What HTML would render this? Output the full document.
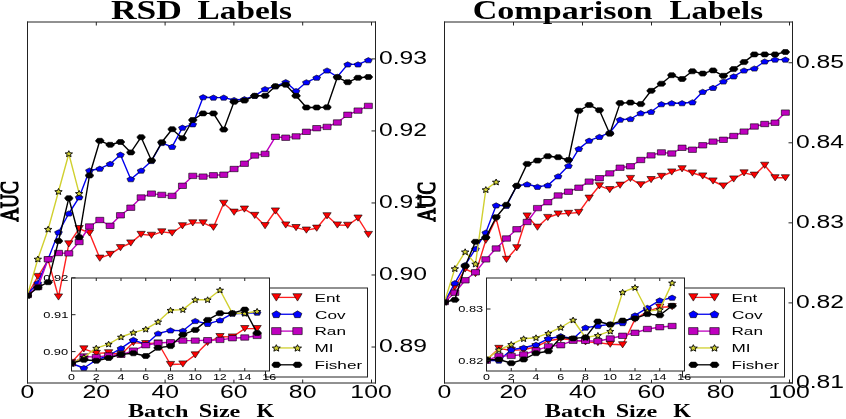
<!DOCTYPE html>
<html><head><meta charset="utf-8"><title>AUC vs Batch Size</title>
<style>html,body{margin:0;padding:0;background:#fff;}body{width:846px;height:419px;overflow:hidden;}svg{display:block;will-change:transform;filter:blur(0.35px);}</style>
</head><body>
<svg width="846" height="419" viewBox="0 0 846 419">
<rect width="846" height="419" fill="#fff"/>
<defs>
<clipPath id="cl"><rect x="27.5" y="22" width="348.0" height="361"/></clipPath>
<clipPath id="cr"><rect x="444.5" y="22" width="348.0" height="361"/></clipPath>
<clipPath id="cil"><rect x="71.5" y="278" width="198.0" height="93"/></clipPath>
<clipPath id="cir"><rect x="486.5" y="278" width="198.0" height="93"/></clipPath>
</defs>
<g clip-path="url(#cl)">
<polyline points="27.5,295 37.83,276.5 48.16,260 58.49,297 68.82,243.9 79.15,228.6 89.47,233 99.8,258.2 110.13,254.4 120.46,247.7 130.79,243 141.12,234.4 151.45,235.3 161.78,231.9 172.11,233 182.44,225.8 192.76,222.9 203.09,222.9 213.42,227.3 223.75,203.3 234.08,212.2 244.41,209.1 254.74,215.4 265.07,225.7 275.4,211 285.73,225 296.05,227.6 306.38,230.1 316.71,228.2 327.04,215.8 337.37,225 347.7,225.3 358.03,218.1 368.36,234.5" fill="none" stroke="#ff2020" stroke-width="1.4" stroke-linejoin="round"/>
<polygon points="23.35,291.9 31.65,291.9 27.5,298.1" fill="#ff0000" stroke="#000" stroke-width="0.6" stroke-linejoin="round"/>
<polygon points="33.68,273.4 41.98,273.4 37.83,279.6" fill="#ff0000" stroke="#000" stroke-width="0.6" stroke-linejoin="round"/>
<polygon points="44.01,256.9 52.31,256.9 48.16,263.1" fill="#ff0000" stroke="#000" stroke-width="0.6" stroke-linejoin="round"/>
<polygon points="54.34,293.9 62.64,293.9 58.49,300.1" fill="#ff0000" stroke="#000" stroke-width="0.6" stroke-linejoin="round"/>
<polygon points="64.67,240.8 72.97,240.8 68.82,247" fill="#ff0000" stroke="#000" stroke-width="0.6" stroke-linejoin="round"/>
<polygon points="75,225.5 83.3,225.5 79.15,231.7" fill="#ff0000" stroke="#000" stroke-width="0.6" stroke-linejoin="round"/>
<polygon points="85.32,229.9 93.62,229.9 89.47,236.1" fill="#ff0000" stroke="#000" stroke-width="0.6" stroke-linejoin="round"/>
<polygon points="95.65,255.1 103.95,255.1 99.8,261.3" fill="#ff0000" stroke="#000" stroke-width="0.6" stroke-linejoin="round"/>
<polygon points="105.98,251.3 114.28,251.3 110.13,257.5" fill="#ff0000" stroke="#000" stroke-width="0.6" stroke-linejoin="round"/>
<polygon points="116.31,244.6 124.61,244.6 120.46,250.8" fill="#ff0000" stroke="#000" stroke-width="0.6" stroke-linejoin="round"/>
<polygon points="126.64,239.9 134.94,239.9 130.79,246.1" fill="#ff0000" stroke="#000" stroke-width="0.6" stroke-linejoin="round"/>
<polygon points="136.97,231.3 145.27,231.3 141.12,237.5" fill="#ff0000" stroke="#000" stroke-width="0.6" stroke-linejoin="round"/>
<polygon points="147.3,232.2 155.6,232.2 151.45,238.4" fill="#ff0000" stroke="#000" stroke-width="0.6" stroke-linejoin="round"/>
<polygon points="157.63,228.8 165.93,228.8 161.78,235" fill="#ff0000" stroke="#000" stroke-width="0.6" stroke-linejoin="round"/>
<polygon points="167.96,229.9 176.26,229.9 172.11,236.1" fill="#ff0000" stroke="#000" stroke-width="0.6" stroke-linejoin="round"/>
<polygon points="178.28,222.7 186.59,222.7 182.44,228.9" fill="#ff0000" stroke="#000" stroke-width="0.6" stroke-linejoin="round"/>
<polygon points="188.61,219.8 196.91,219.8 192.76,226" fill="#ff0000" stroke="#000" stroke-width="0.6" stroke-linejoin="round"/>
<polygon points="198.94,219.8 207.24,219.8 203.09,226" fill="#ff0000" stroke="#000" stroke-width="0.6" stroke-linejoin="round"/>
<polygon points="209.27,224.2 217.57,224.2 213.42,230.4" fill="#ff0000" stroke="#000" stroke-width="0.6" stroke-linejoin="round"/>
<polygon points="219.6,200.2 227.9,200.2 223.75,206.4" fill="#ff0000" stroke="#000" stroke-width="0.6" stroke-linejoin="round"/>
<polygon points="229.93,209.1 238.23,209.1 234.08,215.3" fill="#ff0000" stroke="#000" stroke-width="0.6" stroke-linejoin="round"/>
<polygon points="240.26,206 248.56,206 244.41,212.2" fill="#ff0000" stroke="#000" stroke-width="0.6" stroke-linejoin="round"/>
<polygon points="250.59,212.3 258.89,212.3 254.74,218.5" fill="#ff0000" stroke="#000" stroke-width="0.6" stroke-linejoin="round"/>
<polygon points="260.92,222.6 269.22,222.6 265.07,228.8" fill="#ff0000" stroke="#000" stroke-width="0.6" stroke-linejoin="round"/>
<polygon points="271.25,207.9 279.55,207.9 275.4,214.1" fill="#ff0000" stroke="#000" stroke-width="0.6" stroke-linejoin="round"/>
<polygon points="281.58,221.9 289.88,221.9 285.73,228.1" fill="#ff0000" stroke="#000" stroke-width="0.6" stroke-linejoin="round"/>
<polygon points="291.9,224.5 300.2,224.5 296.05,230.7" fill="#ff0000" stroke="#000" stroke-width="0.6" stroke-linejoin="round"/>
<polygon points="302.23,227 310.53,227 306.38,233.2" fill="#ff0000" stroke="#000" stroke-width="0.6" stroke-linejoin="round"/>
<polygon points="312.56,225.1 320.86,225.1 316.71,231.3" fill="#ff0000" stroke="#000" stroke-width="0.6" stroke-linejoin="round"/>
<polygon points="322.89,212.7 331.19,212.7 327.04,218.9" fill="#ff0000" stroke="#000" stroke-width="0.6" stroke-linejoin="round"/>
<polygon points="333.22,221.9 341.52,221.9 337.37,228.1" fill="#ff0000" stroke="#000" stroke-width="0.6" stroke-linejoin="round"/>
<polygon points="343.55,222.2 351.85,222.2 347.7,228.4" fill="#ff0000" stroke="#000" stroke-width="0.6" stroke-linejoin="round"/>
<polygon points="353.88,215 362.18,215 358.03,221.2" fill="#ff0000" stroke="#000" stroke-width="0.6" stroke-linejoin="round"/>
<polygon points="364.21,231.4 372.51,231.4 368.36,237.6" fill="#ff0000" stroke="#000" stroke-width="0.6" stroke-linejoin="round"/>
</g>
<g clip-path="url(#cl)">
<polyline points="27.5,294 37.83,283 48.16,259 58.49,232.4 68.82,213.5 79.15,197.3 89.47,170.5 99.8,168.7 110.13,163.9 120.46,154.7 130.79,179.2 141.12,170.6 151.45,161 161.78,143 172.11,146.8 182.44,127.7 192.76,124.3 203.09,97.2 213.42,97.6 223.75,97.6 234.08,100 244.41,99.2 254.74,95.8 265.07,89.1 275.4,86.3 285.73,82.1 296.05,91 306.38,82.3 316.71,77.7 327.04,70.5 337.37,76.8 347.7,64.4 358.03,64.4 368.36,60.2" fill="none" stroke="#0000ee" stroke-width="1.4" stroke-linejoin="round"/>
<polygon points="27.5,291.4 31.4,293.39 29.91,296.6 25.09,296.6 23.6,293.39" fill="#0000ff" stroke="#000" stroke-width="0.6" stroke-linejoin="round"/>
<polygon points="37.83,280.4 41.73,282.39 40.24,285.6 35.42,285.6 33.93,282.39" fill="#0000ff" stroke="#000" stroke-width="0.6" stroke-linejoin="round"/>
<polygon points="48.16,256.4 52.06,258.39 50.57,261.6 45.75,261.6 44.26,258.39" fill="#0000ff" stroke="#000" stroke-width="0.6" stroke-linejoin="round"/>
<polygon points="58.49,229.8 62.39,231.79 60.9,235 56.08,235 54.59,231.79" fill="#0000ff" stroke="#000" stroke-width="0.6" stroke-linejoin="round"/>
<polygon points="68.82,210.9 72.72,212.89 71.23,216.1 66.41,216.1 64.92,212.89" fill="#0000ff" stroke="#000" stroke-width="0.6" stroke-linejoin="round"/>
<polygon points="79.15,194.7 83.05,196.69 81.56,199.9 76.73,199.9 75.24,196.69" fill="#0000ff" stroke="#000" stroke-width="0.6" stroke-linejoin="round"/>
<polygon points="89.47,167.9 93.37,169.89 91.88,173.1 87.06,173.1 85.57,169.89" fill="#0000ff" stroke="#000" stroke-width="0.6" stroke-linejoin="round"/>
<polygon points="99.8,166.1 103.7,168.09 102.21,171.3 97.39,171.3 95.9,168.09" fill="#0000ff" stroke="#000" stroke-width="0.6" stroke-linejoin="round"/>
<polygon points="110.13,161.3 114.03,163.29 112.54,166.5 107.72,166.5 106.23,163.29" fill="#0000ff" stroke="#000" stroke-width="0.6" stroke-linejoin="round"/>
<polygon points="120.46,152.1 124.36,154.09 122.87,157.3 118.05,157.3 116.56,154.09" fill="#0000ff" stroke="#000" stroke-width="0.6" stroke-linejoin="round"/>
<polygon points="130.79,176.6 134.69,178.59 133.2,181.8 128.38,181.8 126.89,178.59" fill="#0000ff" stroke="#000" stroke-width="0.6" stroke-linejoin="round"/>
<polygon points="141.12,168 145.02,169.99 143.53,173.2 138.71,173.2 137.22,169.99" fill="#0000ff" stroke="#000" stroke-width="0.6" stroke-linejoin="round"/>
<polygon points="151.45,158.4 155.35,160.39 153.86,163.6 149.04,163.6 147.55,160.39" fill="#0000ff" stroke="#000" stroke-width="0.6" stroke-linejoin="round"/>
<polygon points="161.78,140.4 165.68,142.39 164.19,145.6 159.37,145.6 157.88,142.39" fill="#0000ff" stroke="#000" stroke-width="0.6" stroke-linejoin="round"/>
<polygon points="172.11,144.2 176.01,146.19 174.52,149.4 169.7,149.4 168.21,146.19" fill="#0000ff" stroke="#000" stroke-width="0.6" stroke-linejoin="round"/>
<polygon points="182.44,125.1 186.34,127.09 184.85,130.3 180.02,130.3 178.53,127.09" fill="#0000ff" stroke="#000" stroke-width="0.6" stroke-linejoin="round"/>
<polygon points="192.76,121.7 196.66,123.69 195.17,126.9 190.35,126.9 188.86,123.69" fill="#0000ff" stroke="#000" stroke-width="0.6" stroke-linejoin="round"/>
<polygon points="203.09,94.6 206.99,96.59 205.5,99.8 200.68,99.8 199.19,96.59" fill="#0000ff" stroke="#000" stroke-width="0.6" stroke-linejoin="round"/>
<polygon points="213.42,95 217.32,96.99 215.83,100.2 211.01,100.2 209.52,96.99" fill="#0000ff" stroke="#000" stroke-width="0.6" stroke-linejoin="round"/>
<polygon points="223.75,95 227.65,96.99 226.16,100.2 221.34,100.2 219.85,96.99" fill="#0000ff" stroke="#000" stroke-width="0.6" stroke-linejoin="round"/>
<polygon points="234.08,97.4 237.98,99.39 236.49,102.6 231.67,102.6 230.18,99.39" fill="#0000ff" stroke="#000" stroke-width="0.6" stroke-linejoin="round"/>
<polygon points="244.41,96.6 248.31,98.59 246.82,101.8 242,101.8 240.51,98.59" fill="#0000ff" stroke="#000" stroke-width="0.6" stroke-linejoin="round"/>
<polygon points="254.74,93.2 258.64,95.19 257.15,98.4 252.33,98.4 250.84,95.19" fill="#0000ff" stroke="#000" stroke-width="0.6" stroke-linejoin="round"/>
<polygon points="265.07,86.5 268.97,88.49 267.48,91.7 262.66,91.7 261.17,88.49" fill="#0000ff" stroke="#000" stroke-width="0.6" stroke-linejoin="round"/>
<polygon points="275.4,83.7 279.3,85.69 277.81,88.9 272.99,88.9 271.5,85.69" fill="#0000ff" stroke="#000" stroke-width="0.6" stroke-linejoin="round"/>
<polygon points="285.73,79.5 289.63,81.49 288.14,84.7 283.31,84.7 281.82,81.49" fill="#0000ff" stroke="#000" stroke-width="0.6" stroke-linejoin="round"/>
<polygon points="296.05,88.4 299.95,90.39 298.46,93.6 293.64,93.6 292.15,90.39" fill="#0000ff" stroke="#000" stroke-width="0.6" stroke-linejoin="round"/>
<polygon points="306.38,79.7 310.28,81.69 308.79,84.9 303.97,84.9 302.48,81.69" fill="#0000ff" stroke="#000" stroke-width="0.6" stroke-linejoin="round"/>
<polygon points="316.71,75.1 320.61,77.09 319.12,80.3 314.3,80.3 312.81,77.09" fill="#0000ff" stroke="#000" stroke-width="0.6" stroke-linejoin="round"/>
<polygon points="327.04,67.9 330.94,69.89 329.45,73.1 324.63,73.1 323.14,69.89" fill="#0000ff" stroke="#000" stroke-width="0.6" stroke-linejoin="round"/>
<polygon points="337.37,74.2 341.27,76.19 339.78,79.4 334.96,79.4 333.47,76.19" fill="#0000ff" stroke="#000" stroke-width="0.6" stroke-linejoin="round"/>
<polygon points="347.7,61.8 351.6,63.79 350.11,67 345.29,67 343.8,63.79" fill="#0000ff" stroke="#000" stroke-width="0.6" stroke-linejoin="round"/>
<polygon points="358.03,61.8 361.93,63.79 360.44,67 355.62,67 354.13,63.79" fill="#0000ff" stroke="#000" stroke-width="0.6" stroke-linejoin="round"/>
<polygon points="368.36,57.6 372.26,59.59 370.77,62.8 365.95,62.8 364.46,59.59" fill="#0000ff" stroke="#000" stroke-width="0.6" stroke-linejoin="round"/>
</g>
<g clip-path="url(#cl)">
<polyline points="27.5,295 37.83,287 48.16,259.3 58.49,253 68.82,253.4 79.15,242 89.47,226.5 99.8,220 110.13,225.8 120.46,215.3 130.79,207.7 141.12,197.5 151.45,193.6 161.78,194.9 172.11,195.9 182.44,185.8 192.76,175.9 203.09,176.6 213.42,175.3 223.75,174.7 234.08,169 244.41,163.7 254.74,155.5 265.07,153.9 275.4,136.8 285.73,137.7 296.05,136.4 306.38,131.8 316.71,128.2 327.04,126.9 337.37,122.5 347.7,114.8 358.03,110.6 368.36,105.9" fill="none" stroke="#bf00bf" stroke-width="1.4" stroke-linejoin="round"/>
<polygon points="23.5,292.3 31.5,292.3 31.5,297.7 23.5,297.7" fill="#bf00bf" stroke="#000" stroke-width="0.6" stroke-linejoin="round"/>
<polygon points="33.83,284.3 41.83,284.3 41.83,289.7 33.83,289.7" fill="#bf00bf" stroke="#000" stroke-width="0.6" stroke-linejoin="round"/>
<polygon points="44.16,256.6 52.16,256.6 52.16,262 44.16,262" fill="#bf00bf" stroke="#000" stroke-width="0.6" stroke-linejoin="round"/>
<polygon points="54.49,250.3 62.49,250.3 62.49,255.7 54.49,255.7" fill="#bf00bf" stroke="#000" stroke-width="0.6" stroke-linejoin="round"/>
<polygon points="64.82,250.7 72.82,250.7 72.82,256.1 64.82,256.1" fill="#bf00bf" stroke="#000" stroke-width="0.6" stroke-linejoin="round"/>
<polygon points="75.15,239.3 83.15,239.3 83.15,244.7 75.15,244.7" fill="#bf00bf" stroke="#000" stroke-width="0.6" stroke-linejoin="round"/>
<polygon points="85.47,223.8 93.47,223.8 93.47,229.2 85.47,229.2" fill="#bf00bf" stroke="#000" stroke-width="0.6" stroke-linejoin="round"/>
<polygon points="95.8,217.3 103.8,217.3 103.8,222.7 95.8,222.7" fill="#bf00bf" stroke="#000" stroke-width="0.6" stroke-linejoin="round"/>
<polygon points="106.13,223.1 114.13,223.1 114.13,228.5 106.13,228.5" fill="#bf00bf" stroke="#000" stroke-width="0.6" stroke-linejoin="round"/>
<polygon points="116.46,212.6 124.46,212.6 124.46,218 116.46,218" fill="#bf00bf" stroke="#000" stroke-width="0.6" stroke-linejoin="round"/>
<polygon points="126.79,205 134.79,205 134.79,210.4 126.79,210.4" fill="#bf00bf" stroke="#000" stroke-width="0.6" stroke-linejoin="round"/>
<polygon points="137.12,194.8 145.12,194.8 145.12,200.2 137.12,200.2" fill="#bf00bf" stroke="#000" stroke-width="0.6" stroke-linejoin="round"/>
<polygon points="147.45,190.9 155.45,190.9 155.45,196.3 147.45,196.3" fill="#bf00bf" stroke="#000" stroke-width="0.6" stroke-linejoin="round"/>
<polygon points="157.78,192.2 165.78,192.2 165.78,197.6 157.78,197.6" fill="#bf00bf" stroke="#000" stroke-width="0.6" stroke-linejoin="round"/>
<polygon points="168.11,193.2 176.11,193.2 176.11,198.6 168.11,198.6" fill="#bf00bf" stroke="#000" stroke-width="0.6" stroke-linejoin="round"/>
<polygon points="178.44,183.1 186.44,183.1 186.44,188.5 178.44,188.5" fill="#bf00bf" stroke="#000" stroke-width="0.6" stroke-linejoin="round"/>
<polygon points="188.76,173.2 196.76,173.2 196.76,178.6 188.76,178.6" fill="#bf00bf" stroke="#000" stroke-width="0.6" stroke-linejoin="round"/>
<polygon points="199.09,173.9 207.09,173.9 207.09,179.3 199.09,179.3" fill="#bf00bf" stroke="#000" stroke-width="0.6" stroke-linejoin="round"/>
<polygon points="209.42,172.6 217.42,172.6 217.42,178 209.42,178" fill="#bf00bf" stroke="#000" stroke-width="0.6" stroke-linejoin="round"/>
<polygon points="219.75,172 227.75,172 227.75,177.4 219.75,177.4" fill="#bf00bf" stroke="#000" stroke-width="0.6" stroke-linejoin="round"/>
<polygon points="230.08,166.3 238.08,166.3 238.08,171.7 230.08,171.7" fill="#bf00bf" stroke="#000" stroke-width="0.6" stroke-linejoin="round"/>
<polygon points="240.41,161 248.41,161 248.41,166.4 240.41,166.4" fill="#bf00bf" stroke="#000" stroke-width="0.6" stroke-linejoin="round"/>
<polygon points="250.74,152.8 258.74,152.8 258.74,158.2 250.74,158.2" fill="#bf00bf" stroke="#000" stroke-width="0.6" stroke-linejoin="round"/>
<polygon points="261.07,151.2 269.07,151.2 269.07,156.6 261.07,156.6" fill="#bf00bf" stroke="#000" stroke-width="0.6" stroke-linejoin="round"/>
<polygon points="271.4,134.1 279.4,134.1 279.4,139.5 271.4,139.5" fill="#bf00bf" stroke="#000" stroke-width="0.6" stroke-linejoin="round"/>
<polygon points="281.73,135 289.73,135 289.73,140.4 281.73,140.4" fill="#bf00bf" stroke="#000" stroke-width="0.6" stroke-linejoin="round"/>
<polygon points="292.05,133.7 300.05,133.7 300.05,139.1 292.05,139.1" fill="#bf00bf" stroke="#000" stroke-width="0.6" stroke-linejoin="round"/>
<polygon points="302.38,129.1 310.38,129.1 310.38,134.5 302.38,134.5" fill="#bf00bf" stroke="#000" stroke-width="0.6" stroke-linejoin="round"/>
<polygon points="312.71,125.5 320.71,125.5 320.71,130.9 312.71,130.9" fill="#bf00bf" stroke="#000" stroke-width="0.6" stroke-linejoin="round"/>
<polygon points="323.04,124.2 331.04,124.2 331.04,129.6 323.04,129.6" fill="#bf00bf" stroke="#000" stroke-width="0.6" stroke-linejoin="round"/>
<polygon points="333.37,119.8 341.37,119.8 341.37,125.2 333.37,125.2" fill="#bf00bf" stroke="#000" stroke-width="0.6" stroke-linejoin="round"/>
<polygon points="343.7,112.1 351.7,112.1 351.7,117.5 343.7,117.5" fill="#bf00bf" stroke="#000" stroke-width="0.6" stroke-linejoin="round"/>
<polygon points="354.03,107.9 362.03,107.9 362.03,113.3 354.03,113.3" fill="#bf00bf" stroke="#000" stroke-width="0.6" stroke-linejoin="round"/>
<polygon points="364.36,103.2 372.36,103.2 372.36,108.6 364.36,108.6" fill="#bf00bf" stroke="#000" stroke-width="0.6" stroke-linejoin="round"/>
</g>
<g clip-path="url(#cl)">
<polyline points="27.5,295 37.83,259 48.16,229.2 58.49,191.5 68.82,153.7 79.15,193.4" fill="none" stroke="#d0d030" stroke-width="1.4" stroke-linejoin="round"/>
<polygon points="27.5,291.99 28.53,294.09 31.2,294.28 29.17,295.76 29.79,297.98 27.5,296.79 25.21,297.98 25.83,295.76 23.8,294.28 26.47,294.09" fill="#d4d436" stroke="#000" stroke-width="0.9" stroke-linejoin="round"/>
<polygon points="37.83,255.99 38.86,258.09 41.53,258.28 39.49,259.76 40.12,261.98 37.83,260.79 35.54,261.98 36.16,259.76 34.13,258.28 36.8,258.09" fill="#d4d436" stroke="#000" stroke-width="0.9" stroke-linejoin="round"/>
<polygon points="48.16,226.19 49.19,228.29 51.86,228.48 49.82,229.96 50.44,232.18 48.16,230.99 45.87,232.18 46.49,229.96 44.46,228.48 47.13,228.29" fill="#d4d436" stroke="#000" stroke-width="0.9" stroke-linejoin="round"/>
<polygon points="58.49,188.49 59.52,190.59 62.19,190.78 60.15,192.26 60.77,194.48 58.49,193.29 56.2,194.48 56.82,192.26 54.79,190.78 57.46,190.59" fill="#d4d436" stroke="#000" stroke-width="0.9" stroke-linejoin="round"/>
<polygon points="68.82,150.69 69.85,152.79 72.52,152.98 70.48,154.46 71.1,156.68 68.82,155.49 66.53,156.68 67.15,154.46 65.12,152.98 67.79,152.79" fill="#d4d436" stroke="#000" stroke-width="0.9" stroke-linejoin="round"/>
<polygon points="79.15,190.39 80.17,192.49 82.85,192.68 80.81,194.16 81.43,196.38 79.15,195.19 76.86,196.38 77.48,194.16 75.44,192.68 78.12,192.49" fill="#d4d436" stroke="#000" stroke-width="0.9" stroke-linejoin="round"/>
</g>
<g clip-path="url(#cl)">
<polyline points="27.5,295.8 37.83,287.5 48.16,282.2 58.49,241 68.82,198.2 79.15,237.2 89.47,175.5 99.8,140.8 110.13,144.8 120.46,142 130.79,152.4 141.12,137.2 151.45,160.5 161.78,142.3 172.11,129.2 182.44,138.2 192.76,120 203.09,113.4 213.42,113.4 223.75,129.6 234.08,101.8 244.41,100.6 254.74,95.8 265.07,95.8 275.4,86.3 285.73,84.7 296.05,95.8 306.38,107.5 316.71,107.5 327.04,107.3 337.37,77.3 347.7,82.2 358.03,77.8 368.36,77" fill="none" stroke="#000000" stroke-width="1.4" stroke-linejoin="round"/>
<polygon points="23.5,295.3 25.26,293.3 29.74,293.3 31.5,295.3 31.5,296.3 29.74,298.3 25.26,298.3 23.5,296.3" fill="#000000" stroke="#000" stroke-width="0.6" stroke-linejoin="round"/>
<polygon points="33.83,287 35.59,285 40.07,285 41.83,287 41.83,288 40.07,290 35.59,290 33.83,288" fill="#000000" stroke="#000" stroke-width="0.6" stroke-linejoin="round"/>
<polygon points="44.16,281.7 45.92,279.7 50.4,279.7 52.16,281.7 52.16,282.7 50.4,284.7 45.92,284.7 44.16,282.7" fill="#000000" stroke="#000" stroke-width="0.6" stroke-linejoin="round"/>
<polygon points="54.49,240.5 56.25,238.5 60.73,238.5 62.49,240.5 62.49,241.5 60.73,243.5 56.25,243.5 54.49,241.5" fill="#000000" stroke="#000" stroke-width="0.6" stroke-linejoin="round"/>
<polygon points="64.82,197.7 66.58,195.7 71.06,195.7 72.82,197.7 72.82,198.7 71.06,200.7 66.58,200.7 64.82,198.7" fill="#000000" stroke="#000" stroke-width="0.6" stroke-linejoin="round"/>
<polygon points="75.15,236.7 76.91,234.7 81.39,234.7 83.15,236.7 83.15,237.7 81.39,239.7 76.91,239.7 75.15,237.7" fill="#000000" stroke="#000" stroke-width="0.6" stroke-linejoin="round"/>
<polygon points="85.47,175 87.23,173 91.71,173 93.47,175 93.47,176 91.71,178 87.23,178 85.47,176" fill="#000000" stroke="#000" stroke-width="0.6" stroke-linejoin="round"/>
<polygon points="95.8,140.3 97.56,138.3 102.04,138.3 103.8,140.3 103.8,141.3 102.04,143.3 97.56,143.3 95.8,141.3" fill="#000000" stroke="#000" stroke-width="0.6" stroke-linejoin="round"/>
<polygon points="106.13,144.3 107.89,142.3 112.37,142.3 114.13,144.3 114.13,145.3 112.37,147.3 107.89,147.3 106.13,145.3" fill="#000000" stroke="#000" stroke-width="0.6" stroke-linejoin="round"/>
<polygon points="116.46,141.5 118.22,139.5 122.7,139.5 124.46,141.5 124.46,142.5 122.7,144.5 118.22,144.5 116.46,142.5" fill="#000000" stroke="#000" stroke-width="0.6" stroke-linejoin="round"/>
<polygon points="126.79,151.9 128.55,149.9 133.03,149.9 134.79,151.9 134.79,152.9 133.03,154.9 128.55,154.9 126.79,152.9" fill="#000000" stroke="#000" stroke-width="0.6" stroke-linejoin="round"/>
<polygon points="137.12,136.7 138.88,134.7 143.36,134.7 145.12,136.7 145.12,137.7 143.36,139.7 138.88,139.7 137.12,137.7" fill="#000000" stroke="#000" stroke-width="0.6" stroke-linejoin="round"/>
<polygon points="147.45,160 149.21,158 153.69,158 155.45,160 155.45,161 153.69,163 149.21,163 147.45,161" fill="#000000" stroke="#000" stroke-width="0.6" stroke-linejoin="round"/>
<polygon points="157.78,141.8 159.54,139.8 164.02,139.8 165.78,141.8 165.78,142.8 164.02,144.8 159.54,144.8 157.78,142.8" fill="#000000" stroke="#000" stroke-width="0.6" stroke-linejoin="round"/>
<polygon points="168.11,128.7 169.87,126.7 174.35,126.7 176.11,128.7 176.11,129.7 174.35,131.7 169.87,131.7 168.11,129.7" fill="#000000" stroke="#000" stroke-width="0.6" stroke-linejoin="round"/>
<polygon points="178.44,137.7 180.19,135.7 184.68,135.7 186.44,137.7 186.44,138.7 184.68,140.7 180.19,140.7 178.44,138.7" fill="#000000" stroke="#000" stroke-width="0.6" stroke-linejoin="round"/>
<polygon points="188.76,119.5 190.52,117.5 195,117.5 196.76,119.5 196.76,120.5 195,122.5 190.52,122.5 188.76,120.5" fill="#000000" stroke="#000" stroke-width="0.6" stroke-linejoin="round"/>
<polygon points="199.09,112.9 200.85,110.9 205.33,110.9 207.09,112.9 207.09,113.9 205.33,115.9 200.85,115.9 199.09,113.9" fill="#000000" stroke="#000" stroke-width="0.6" stroke-linejoin="round"/>
<polygon points="209.42,112.9 211.18,110.9 215.66,110.9 217.42,112.9 217.42,113.9 215.66,115.9 211.18,115.9 209.42,113.9" fill="#000000" stroke="#000" stroke-width="0.6" stroke-linejoin="round"/>
<polygon points="219.75,129.1 221.51,127.1 225.99,127.1 227.75,129.1 227.75,130.1 225.99,132.1 221.51,132.1 219.75,130.1" fill="#000000" stroke="#000" stroke-width="0.6" stroke-linejoin="round"/>
<polygon points="230.08,101.3 231.84,99.3 236.32,99.3 238.08,101.3 238.08,102.3 236.32,104.3 231.84,104.3 230.08,102.3" fill="#000000" stroke="#000" stroke-width="0.6" stroke-linejoin="round"/>
<polygon points="240.41,100.1 242.17,98.1 246.65,98.1 248.41,100.1 248.41,101.1 246.65,103.1 242.17,103.1 240.41,101.1" fill="#000000" stroke="#000" stroke-width="0.6" stroke-linejoin="round"/>
<polygon points="250.74,95.3 252.5,93.3 256.98,93.3 258.74,95.3 258.74,96.3 256.98,98.3 252.5,98.3 250.74,96.3" fill="#000000" stroke="#000" stroke-width="0.6" stroke-linejoin="round"/>
<polygon points="261.07,95.3 262.83,93.3 267.31,93.3 269.07,95.3 269.07,96.3 267.31,98.3 262.83,98.3 261.07,96.3" fill="#000000" stroke="#000" stroke-width="0.6" stroke-linejoin="round"/>
<polygon points="271.4,85.8 273.16,83.8 277.64,83.8 279.4,85.8 279.4,86.8 277.64,88.8 273.16,88.8 271.4,86.8" fill="#000000" stroke="#000" stroke-width="0.6" stroke-linejoin="round"/>
<polygon points="281.73,84.2 283.49,82.2 287.97,82.2 289.73,84.2 289.73,85.2 287.97,87.2 283.49,87.2 281.73,85.2" fill="#000000" stroke="#000" stroke-width="0.6" stroke-linejoin="round"/>
<polygon points="292.05,95.3 293.81,93.3 298.29,93.3 300.05,95.3 300.05,96.3 298.29,98.3 293.81,98.3 292.05,96.3" fill="#000000" stroke="#000" stroke-width="0.6" stroke-linejoin="round"/>
<polygon points="302.38,107 304.14,105 308.62,105 310.38,107 310.38,108 308.62,110 304.14,110 302.38,108" fill="#000000" stroke="#000" stroke-width="0.6" stroke-linejoin="round"/>
<polygon points="312.71,107 314.47,105 318.95,105 320.71,107 320.71,108 318.95,110 314.47,110 312.71,108" fill="#000000" stroke="#000" stroke-width="0.6" stroke-linejoin="round"/>
<polygon points="323.04,106.8 324.8,104.8 329.28,104.8 331.04,106.8 331.04,107.8 329.28,109.8 324.8,109.8 323.04,107.8" fill="#000000" stroke="#000" stroke-width="0.6" stroke-linejoin="round"/>
<polygon points="333.37,76.8 335.13,74.8 339.61,74.8 341.37,76.8 341.37,77.8 339.61,79.8 335.13,79.8 333.37,77.8" fill="#000000" stroke="#000" stroke-width="0.6" stroke-linejoin="round"/>
<polygon points="343.7,81.7 345.46,79.7 349.94,79.7 351.7,81.7 351.7,82.7 349.94,84.7 345.46,84.7 343.7,82.7" fill="#000000" stroke="#000" stroke-width="0.6" stroke-linejoin="round"/>
<polygon points="354.03,77.3 355.79,75.3 360.27,75.3 362.03,77.3 362.03,78.3 360.27,80.3 355.79,80.3 354.03,78.3" fill="#000000" stroke="#000" stroke-width="0.6" stroke-linejoin="round"/>
<polygon points="364.36,76.5 366.12,74.5 370.6,74.5 372.36,76.5 372.36,77.5 370.6,79.5 366.12,79.5 364.36,77.5" fill="#000000" stroke="#000" stroke-width="0.6" stroke-linejoin="round"/>
</g>
<path d="M27 22H376" stroke="#222222" stroke-width="1"/>
<path d="M27 383H376" stroke="#222222" stroke-width="1"/>
<path d="M27.5 21.5V383.5" stroke="#222222" stroke-width="1"/>
<path d="M375.5 21.5V383.5" stroke="#222222" stroke-width="1"/>
<line x1="27.5" y1="383" x2="27.5" y2="379.5" stroke="#222222" stroke-width="1"/>
<line x1="27.5" y1="22" x2="27.5" y2="25.5" stroke="#222222" stroke-width="1"/>
<text transform="matrix(24.8 0 0 17.67 20.59 397.6)" font-size="1" font-family='"Liberation Sans", sans-serif' font-weight="normal" fill="#000">0</text>
<line x1="96.3" y1="383" x2="96.3" y2="379.5" stroke="#222222" stroke-width="1"/>
<line x1="96.3" y1="22" x2="96.3" y2="25.5" stroke="#222222" stroke-width="1"/>
<text transform="matrix(24.8 0 0 17.67 82.38 397.6)" font-size="1" font-family='"Liberation Sans", sans-serif' font-weight="normal" fill="#000">20</text>
<line x1="165.1" y1="383" x2="165.1" y2="379.5" stroke="#222222" stroke-width="1"/>
<line x1="165.1" y1="22" x2="165.1" y2="25.5" stroke="#222222" stroke-width="1"/>
<text transform="matrix(24.8 0 0 17.67 151.52 397.6)" font-size="1" font-family='"Liberation Sans", sans-serif' font-weight="normal" fill="#000">40</text>
<line x1="233.9" y1="383" x2="233.9" y2="379.5" stroke="#222222" stroke-width="1"/>
<line x1="233.9" y1="22" x2="233.9" y2="25.5" stroke="#222222" stroke-width="1"/>
<text transform="matrix(24.8 0 0 17.67 219.98 397.6)" font-size="1" font-family='"Liberation Sans", sans-serif' font-weight="normal" fill="#000">60</text>
<line x1="302.7" y1="383" x2="302.7" y2="379.5" stroke="#222222" stroke-width="1"/>
<line x1="302.7" y1="22" x2="302.7" y2="25.5" stroke="#222222" stroke-width="1"/>
<text transform="matrix(24.8 0 0 17.67 288.87 397.6)" font-size="1" font-family='"Liberation Sans", sans-serif' font-weight="normal" fill="#000">80</text>
<line x1="371.5" y1="383" x2="371.5" y2="379.5" stroke="#222222" stroke-width="1"/>
<line x1="371.5" y1="22" x2="371.5" y2="25.5" stroke="#222222" stroke-width="1"/>
<text transform="matrix(24.8 0 0 17.67 350.36 397.6)" font-size="1" font-family='"Liberation Sans", sans-serif' font-weight="normal" fill="#000">100</text>
<line x1="375.5" y1="58.9" x2="371.5" y2="58.9" stroke="#222222" stroke-width="1"/>
<text transform="matrix(24.7 0 0 17.67 379.01 63.8)" font-size="1" font-family='"Liberation Sans", sans-serif' font-weight="normal" fill="#000">0.93</text>
<line x1="375.5" y1="130.93" x2="371.5" y2="130.93" stroke="#222222" stroke-width="1"/>
<text transform="matrix(24.7 0 0 17.67 379.01 135.83)" font-size="1" font-family='"Liberation Sans", sans-serif' font-weight="normal" fill="#000">0.92</text>
<line x1="375.5" y1="202.96" x2="371.5" y2="202.96" stroke="#222222" stroke-width="1"/>
<text transform="matrix(24.7 0 0 17.67 379.01 207.86)" font-size="1" font-family='"Liberation Sans", sans-serif' font-weight="normal" fill="#000">0.91</text>
<line x1="375.5" y1="274.99" x2="371.5" y2="274.99" stroke="#222222" stroke-width="1"/>
<text transform="matrix(24.7 0 0 17.67 379.01 279.89)" font-size="1" font-family='"Liberation Sans", sans-serif' font-weight="normal" fill="#000">0.90</text>
<line x1="375.5" y1="347.02" x2="371.5" y2="347.02" stroke="#222222" stroke-width="1"/>
<text transform="matrix(24.7 0 0 17.67 379.01 351.92)" font-size="1" font-family='"Liberation Sans", sans-serif' font-weight="normal" fill="#000">0.89</text>
<rect x="265.5" y="288" width="102" height="89" fill="#fff" stroke="#222222" stroke-width="1"/>
<line x1="276.3" y1="297.4" x2="297.5" y2="297.4" stroke="#ff2020" stroke-width="1.3"/>
<polygon points="271.7,293.7 280.9,293.7 276.3,301.1" fill="#ff0000" stroke="#000" stroke-width="0.6" stroke-linejoin="round"/>
<polygon points="292.9,293.7 302.1,293.7 297.5,301.1" fill="#ff0000" stroke="#000" stroke-width="0.6" stroke-linejoin="round"/>
<text transform="matrix(17.16 0 0 11.84 314.48 301.7)" font-size="1" font-family='"Liberation Sans", sans-serif' font-weight="normal" fill="#000">Ent</text>
<line x1="276.3" y1="314.25" x2="297.5" y2="314.25" stroke="#0000ee" stroke-width="1.3"/>
<polygon points="276.3,310.85 280.7,313.45 279.02,317.65 273.58,317.65 271.9,313.45" fill="#0000ff" stroke="#000" stroke-width="0.6" stroke-linejoin="round"/>
<polygon points="297.5,310.85 301.9,313.45 300.22,317.65 294.78,317.65 293.1,313.45" fill="#0000ff" stroke="#000" stroke-width="0.6" stroke-linejoin="round"/>
<text transform="matrix(17.16 0 0 11.84 315.04 318.55)" font-size="1" font-family='"Liberation Sans", sans-serif' font-weight="normal" fill="#000">Cov</text>
<line x1="276.3" y1="331.1" x2="297.5" y2="331.1" stroke="#bf00bf" stroke-width="1.3"/>
<polygon points="271.6,327.6 281,327.6 281,334.6 271.6,334.6" fill="#bf00bf" stroke="#000" stroke-width="0.6" stroke-linejoin="round"/>
<polygon points="292.8,327.6 302.2,327.6 302.2,334.6 292.8,334.6" fill="#bf00bf" stroke="#000" stroke-width="0.6" stroke-linejoin="round"/>
<text transform="matrix(17.16 0 0 11.84 314.48 335.4)" font-size="1" font-family='"Liberation Sans", sans-serif' font-weight="normal" fill="#000">Ran</text>
<line x1="276.3" y1="347.95" x2="297.5" y2="347.95" stroke="#d0d030" stroke-width="1.3"/>
<polygon points="276.3,344.68 277.41,346.97 280.3,347.17 278.1,348.77 278.77,351.18 276.3,349.89 273.83,351.18 274.5,348.77 272.3,347.17 275.19,346.97" fill="#d4d436" stroke="#000" stroke-width="0.9" stroke-linejoin="round"/>
<polygon points="297.5,344.68 298.61,346.97 301.5,347.17 299.3,348.77 299.97,351.18 297.5,349.89 295.03,351.18 295.7,348.77 293.5,347.17 296.39,346.97" fill="#d4d436" stroke="#000" stroke-width="0.9" stroke-linejoin="round"/>
<text transform="matrix(17.16 0 0 11.84 314.48 352.25)" font-size="1" font-family='"Liberation Sans", sans-serif' font-weight="normal" fill="#000">MI</text>
<line x1="276.3" y1="364.8" x2="297.5" y2="364.8" stroke="#000000" stroke-width="1.3"/>
<polygon points="272,364.26 273.89,362.1 278.71,362.1 280.6,364.26 280.6,365.34 278.71,367.5 273.89,367.5 272,365.34" fill="#000000" stroke="#000" stroke-width="0.6" stroke-linejoin="round"/>
<polygon points="293.2,364.26 295.09,362.1 299.91,362.1 301.8,364.26 301.8,365.34 299.91,367.5 295.09,367.5 293.2,365.34" fill="#000000" stroke="#000" stroke-width="0.6" stroke-linejoin="round"/>
<text transform="matrix(17.16 0 0 11.84 314.48 369.1)" font-size="1" font-family='"Liberation Sans", sans-serif' font-weight="normal" fill="#000">Fisher</text>
<rect x="71.5" y="278" width="198" height="93" fill="#fff" stroke="none"/>
<g clip-path="url(#cil)">
<polyline points="71.5,362.5 83.88,348.9 96.25,353.4 108.62,352.8 121,354.5 133.38,342.6 145.75,343.6 158.12,343 170.5,364.5 182.88,364 195.25,354.9 207.62,342.5 220,336.6 232.38,337 244.75,328.6 257.12,328.6" fill="none" stroke="#ff2020" stroke-width="1.4" stroke-linejoin="round"/>
<polygon points="67.35,359.4 75.65,359.4 71.5,365.6" fill="#ff0000" stroke="#000" stroke-width="0.6" stroke-linejoin="round"/>
<polygon points="79.72,345.8 88.03,345.8 83.88,352" fill="#ff0000" stroke="#000" stroke-width="0.6" stroke-linejoin="round"/>
<polygon points="92.1,350.3 100.4,350.3 96.25,356.5" fill="#ff0000" stroke="#000" stroke-width="0.6" stroke-linejoin="round"/>
<polygon points="104.47,349.7 112.78,349.7 108.62,355.9" fill="#ff0000" stroke="#000" stroke-width="0.6" stroke-linejoin="round"/>
<polygon points="116.85,351.4 125.15,351.4 121,357.6" fill="#ff0000" stroke="#000" stroke-width="0.6" stroke-linejoin="round"/>
<polygon points="129.22,339.5 137.53,339.5 133.38,345.7" fill="#ff0000" stroke="#000" stroke-width="0.6" stroke-linejoin="round"/>
<polygon points="141.6,340.5 149.9,340.5 145.75,346.7" fill="#ff0000" stroke="#000" stroke-width="0.6" stroke-linejoin="round"/>
<polygon points="153.97,339.9 162.28,339.9 158.12,346.1" fill="#ff0000" stroke="#000" stroke-width="0.6" stroke-linejoin="round"/>
<polygon points="166.35,361.4 174.65,361.4 170.5,367.6" fill="#ff0000" stroke="#000" stroke-width="0.6" stroke-linejoin="round"/>
<polygon points="178.72,360.9 187.03,360.9 182.88,367.1" fill="#ff0000" stroke="#000" stroke-width="0.6" stroke-linejoin="round"/>
<polygon points="191.1,351.8 199.4,351.8 195.25,358" fill="#ff0000" stroke="#000" stroke-width="0.6" stroke-linejoin="round"/>
<polygon points="203.47,339.4 211.78,339.4 207.62,345.6" fill="#ff0000" stroke="#000" stroke-width="0.6" stroke-linejoin="round"/>
<polygon points="215.85,333.5 224.15,333.5 220,339.7" fill="#ff0000" stroke="#000" stroke-width="0.6" stroke-linejoin="round"/>
<polygon points="228.22,333.9 236.53,333.9 232.38,340.1" fill="#ff0000" stroke="#000" stroke-width="0.6" stroke-linejoin="round"/>
<polygon points="240.6,325.5 248.9,325.5 244.75,331.7" fill="#ff0000" stroke="#000" stroke-width="0.6" stroke-linejoin="round"/>
<polygon points="252.97,325.5 261.27,325.5 257.12,331.7" fill="#ff0000" stroke="#000" stroke-width="0.6" stroke-linejoin="round"/>
</g>
<g clip-path="url(#cil)">
<polyline points="71.5,363.5 83.88,368 96.25,360 108.62,355.5 121,348.3 133.38,339.9 145.75,344.5 158.12,333.5 170.5,330.4 182.88,330.8 195.25,321 207.62,323.9 220,320.3 232.38,313.7 244.75,313.2 257.12,312.7" fill="none" stroke="#0000ee" stroke-width="1.4" stroke-linejoin="round"/>
<polygon points="71.5,360.9 75.4,362.89 73.91,366.1 69.09,366.1 67.6,362.89" fill="#0000ff" stroke="#000" stroke-width="0.6" stroke-linejoin="round"/>
<polygon points="83.88,365.4 87.78,367.39 86.29,370.6 81.46,370.6 79.97,367.39" fill="#0000ff" stroke="#000" stroke-width="0.6" stroke-linejoin="round"/>
<polygon points="96.25,357.4 100.15,359.39 98.66,362.6 93.84,362.6 92.35,359.39" fill="#0000ff" stroke="#000" stroke-width="0.6" stroke-linejoin="round"/>
<polygon points="108.62,352.9 112.53,354.89 111.04,358.1 106.21,358.1 104.72,354.89" fill="#0000ff" stroke="#000" stroke-width="0.6" stroke-linejoin="round"/>
<polygon points="121,345.7 124.9,347.69 123.41,350.9 118.59,350.9 117.1,347.69" fill="#0000ff" stroke="#000" stroke-width="0.6" stroke-linejoin="round"/>
<polygon points="133.38,337.3 137.28,339.29 135.79,342.5 130.96,342.5 129.47,339.29" fill="#0000ff" stroke="#000" stroke-width="0.6" stroke-linejoin="round"/>
<polygon points="145.75,341.9 149.65,343.89 148.16,347.1 143.34,347.1 141.85,343.89" fill="#0000ff" stroke="#000" stroke-width="0.6" stroke-linejoin="round"/>
<polygon points="158.12,330.9 162.03,332.89 160.54,336.1 155.71,336.1 154.22,332.89" fill="#0000ff" stroke="#000" stroke-width="0.6" stroke-linejoin="round"/>
<polygon points="170.5,327.8 174.4,329.79 172.91,333 168.09,333 166.6,329.79" fill="#0000ff" stroke="#000" stroke-width="0.6" stroke-linejoin="round"/>
<polygon points="182.88,328.2 186.78,330.19 185.29,333.4 180.46,333.4 178.97,330.19" fill="#0000ff" stroke="#000" stroke-width="0.6" stroke-linejoin="round"/>
<polygon points="195.25,318.4 199.15,320.39 197.66,323.6 192.84,323.6 191.35,320.39" fill="#0000ff" stroke="#000" stroke-width="0.6" stroke-linejoin="round"/>
<polygon points="207.62,321.3 211.53,323.29 210.04,326.5 205.21,326.5 203.72,323.29" fill="#0000ff" stroke="#000" stroke-width="0.6" stroke-linejoin="round"/>
<polygon points="220,317.7 223.9,319.69 222.41,322.9 217.59,322.9 216.1,319.69" fill="#0000ff" stroke="#000" stroke-width="0.6" stroke-linejoin="round"/>
<polygon points="232.38,311.1 236.28,313.09 234.79,316.3 229.96,316.3 228.47,313.09" fill="#0000ff" stroke="#000" stroke-width="0.6" stroke-linejoin="round"/>
<polygon points="244.75,310.6 248.65,312.59 247.16,315.8 242.34,315.8 240.85,312.59" fill="#0000ff" stroke="#000" stroke-width="0.6" stroke-linejoin="round"/>
<polygon points="257.12,310.1 261.03,312.09 259.54,315.3 254.71,315.3 253.22,312.09" fill="#0000ff" stroke="#000" stroke-width="0.6" stroke-linejoin="round"/>
</g>
<g clip-path="url(#cil)">
<polyline points="71.5,363.3 83.88,356.5 96.25,357.1 108.62,355.5 121,354.8 133.38,350.6 145.75,345.2 158.12,343 170.5,342.3 182.88,340.6 195.25,340.6 207.62,340.2 220,339.9 232.38,338.2 244.75,337.5 257.12,335.9" fill="none" stroke="#bf00bf" stroke-width="1.4" stroke-linejoin="round"/>
<polygon points="67.5,360.6 75.5,360.6 75.5,366 67.5,366" fill="#bf00bf" stroke="#000" stroke-width="0.6" stroke-linejoin="round"/>
<polygon points="79.88,353.8 87.88,353.8 87.88,359.2 79.88,359.2" fill="#bf00bf" stroke="#000" stroke-width="0.6" stroke-linejoin="round"/>
<polygon points="92.25,354.4 100.25,354.4 100.25,359.8 92.25,359.8" fill="#bf00bf" stroke="#000" stroke-width="0.6" stroke-linejoin="round"/>
<polygon points="104.62,352.8 112.62,352.8 112.62,358.2 104.62,358.2" fill="#bf00bf" stroke="#000" stroke-width="0.6" stroke-linejoin="round"/>
<polygon points="117,352.1 125,352.1 125,357.5 117,357.5" fill="#bf00bf" stroke="#000" stroke-width="0.6" stroke-linejoin="round"/>
<polygon points="129.38,347.9 137.38,347.9 137.38,353.3 129.38,353.3" fill="#bf00bf" stroke="#000" stroke-width="0.6" stroke-linejoin="round"/>
<polygon points="141.75,342.5 149.75,342.5 149.75,347.9 141.75,347.9" fill="#bf00bf" stroke="#000" stroke-width="0.6" stroke-linejoin="round"/>
<polygon points="154.12,340.3 162.12,340.3 162.12,345.7 154.12,345.7" fill="#bf00bf" stroke="#000" stroke-width="0.6" stroke-linejoin="round"/>
<polygon points="166.5,339.6 174.5,339.6 174.5,345 166.5,345" fill="#bf00bf" stroke="#000" stroke-width="0.6" stroke-linejoin="round"/>
<polygon points="178.88,337.9 186.88,337.9 186.88,343.3 178.88,343.3" fill="#bf00bf" stroke="#000" stroke-width="0.6" stroke-linejoin="round"/>
<polygon points="191.25,337.9 199.25,337.9 199.25,343.3 191.25,343.3" fill="#bf00bf" stroke="#000" stroke-width="0.6" stroke-linejoin="round"/>
<polygon points="203.62,337.5 211.62,337.5 211.62,342.9 203.62,342.9" fill="#bf00bf" stroke="#000" stroke-width="0.6" stroke-linejoin="round"/>
<polygon points="216,337.2 224,337.2 224,342.6 216,342.6" fill="#bf00bf" stroke="#000" stroke-width="0.6" stroke-linejoin="round"/>
<polygon points="228.38,335.5 236.38,335.5 236.38,340.9 228.38,340.9" fill="#bf00bf" stroke="#000" stroke-width="0.6" stroke-linejoin="round"/>
<polygon points="240.75,334.8 248.75,334.8 248.75,340.2 240.75,340.2" fill="#bf00bf" stroke="#000" stroke-width="0.6" stroke-linejoin="round"/>
<polygon points="253.12,333.2 261.12,333.2 261.12,338.6 253.12,338.6" fill="#bf00bf" stroke="#000" stroke-width="0.6" stroke-linejoin="round"/>
</g>
<g clip-path="url(#cil)">
<polyline points="71.5,363.3 83.88,357.2 96.25,348.1 108.62,344.1 121,337 133.38,332.6 145.75,329.2 158.12,321.8 170.5,310.2 182.88,309.6 195.25,299.7 207.62,299.7 220,290 232.38,313.3 244.75,313.3 257.12,311.3" fill="none" stroke="#d0d030" stroke-width="1.4" stroke-linejoin="round"/>
<polygon points="71.5,360.39 72.47,362.42 75,362.6 73.08,364.04 73.66,366.18 71.5,365.03 69.34,366.18 69.92,364.04 68,362.6 70.53,362.42" fill="#d4d436" stroke="#000" stroke-width="0.9" stroke-linejoin="round"/>
<polygon points="83.88,354.29 84.85,356.32 87.38,356.5 85.45,357.94 86.04,360.08 83.88,358.93 81.71,360.08 82.3,357.94 80.37,356.5 82.9,356.32" fill="#d4d436" stroke="#000" stroke-width="0.9" stroke-linejoin="round"/>
<polygon points="96.25,345.19 97.22,347.22 99.75,347.4 97.83,348.84 98.41,350.98 96.25,349.83 94.09,350.98 94.67,348.84 92.75,347.4 95.28,347.22" fill="#d4d436" stroke="#000" stroke-width="0.9" stroke-linejoin="round"/>
<polygon points="108.62,341.19 109.6,343.22 112.13,343.4 110.2,344.84 110.79,346.98 108.62,345.83 106.46,346.98 107.05,344.84 105.12,343.4 107.65,343.22" fill="#d4d436" stroke="#000" stroke-width="0.9" stroke-linejoin="round"/>
<polygon points="121,334.09 121.97,336.12 124.5,336.3 122.58,337.74 123.16,339.88 121,338.73 118.84,339.88 119.42,337.74 117.5,336.3 120.03,336.12" fill="#d4d436" stroke="#000" stroke-width="0.9" stroke-linejoin="round"/>
<polygon points="133.38,329.69 134.35,331.72 136.88,331.9 134.95,333.34 135.54,335.48 133.38,334.33 131.21,335.48 131.8,333.34 129.87,331.9 132.4,331.72" fill="#d4d436" stroke="#000" stroke-width="0.9" stroke-linejoin="round"/>
<polygon points="145.75,326.29 146.72,328.32 149.25,328.5 147.33,329.94 147.91,332.08 145.75,330.93 143.59,332.08 144.17,329.94 142.25,328.5 144.78,328.32" fill="#d4d436" stroke="#000" stroke-width="0.9" stroke-linejoin="round"/>
<polygon points="158.12,318.89 159.1,320.92 161.63,321.1 159.7,322.54 160.29,324.68 158.12,323.53 155.96,324.68 156.55,322.54 154.62,321.1 157.15,320.92" fill="#d4d436" stroke="#000" stroke-width="0.9" stroke-linejoin="round"/>
<polygon points="170.5,307.29 171.47,309.32 174,309.5 172.08,310.94 172.66,313.08 170.5,311.93 168.34,313.08 168.92,310.94 167,309.5 169.53,309.32" fill="#d4d436" stroke="#000" stroke-width="0.9" stroke-linejoin="round"/>
<polygon points="182.88,306.69 183.85,308.72 186.38,308.9 184.45,310.34 185.04,312.48 182.88,311.33 180.71,312.48 181.3,310.34 179.37,308.9 181.9,308.72" fill="#d4d436" stroke="#000" stroke-width="0.9" stroke-linejoin="round"/>
<polygon points="195.25,296.79 196.22,298.82 198.75,299 196.83,300.44 197.41,302.58 195.25,301.43 193.09,302.58 193.67,300.44 191.75,299 194.28,298.82" fill="#d4d436" stroke="#000" stroke-width="0.9" stroke-linejoin="round"/>
<polygon points="207.62,296.79 208.6,298.82 211.13,299 209.2,300.44 209.79,302.58 207.62,301.43 205.46,302.58 206.05,300.44 204.12,299 206.65,298.82" fill="#d4d436" stroke="#000" stroke-width="0.9" stroke-linejoin="round"/>
<polygon points="220,287.09 220.97,289.12 223.5,289.3 221.58,290.74 222.16,292.88 220,291.73 217.84,292.88 218.42,290.74 216.5,289.3 219.03,289.12" fill="#d4d436" stroke="#000" stroke-width="0.9" stroke-linejoin="round"/>
<polygon points="232.38,310.39 233.35,312.42 235.88,312.6 233.95,314.04 234.54,316.18 232.38,315.03 230.21,316.18 230.8,314.04 228.87,312.6 231.4,312.42" fill="#d4d436" stroke="#000" stroke-width="0.9" stroke-linejoin="round"/>
<polygon points="244.75,310.39 245.72,312.42 248.25,312.6 246.33,314.04 246.91,316.18 244.75,315.03 242.59,316.18 243.17,314.04 241.25,312.6 243.78,312.42" fill="#d4d436" stroke="#000" stroke-width="0.9" stroke-linejoin="round"/>
<polygon points="257.12,308.39 258.1,310.42 260.63,310.6 258.7,312.04 259.29,314.18 257.12,313.03 254.96,314.18 255.55,312.04 253.62,310.6 256.15,310.42" fill="#d4d436" stroke="#000" stroke-width="0.9" stroke-linejoin="round"/>
</g>
<g clip-path="url(#cil)">
<polyline points="71.5,363.2 83.88,359.8 96.25,360.7 108.62,358 121,354.4 133.38,353.3 145.75,356 158.12,347.8 170.5,346.1 182.88,334.7 195.25,329.9 207.62,319.9 220,313.2 232.38,313.2 244.75,309.6 257.12,333" fill="none" stroke="#000000" stroke-width="1.4" stroke-linejoin="round"/>
<polygon points="67.5,362.7 69.26,360.7 73.74,360.7 75.5,362.7 75.5,363.7 73.74,365.7 69.26,365.7 67.5,363.7" fill="#000000" stroke="#000" stroke-width="0.6" stroke-linejoin="round"/>
<polygon points="79.88,359.3 81.64,357.3 86.11,357.3 87.88,359.3 87.88,360.3 86.11,362.3 81.64,362.3 79.88,360.3" fill="#000000" stroke="#000" stroke-width="0.6" stroke-linejoin="round"/>
<polygon points="92.25,360.2 94.01,358.2 98.49,358.2 100.25,360.2 100.25,361.2 98.49,363.2 94.01,363.2 92.25,361.2" fill="#000000" stroke="#000" stroke-width="0.6" stroke-linejoin="round"/>
<polygon points="104.62,357.5 106.39,355.5 110.86,355.5 112.62,357.5 112.62,358.5 110.86,360.5 106.39,360.5 104.62,358.5" fill="#000000" stroke="#000" stroke-width="0.6" stroke-linejoin="round"/>
<polygon points="117,353.9 118.76,351.9 123.24,351.9 125,353.9 125,354.9 123.24,356.9 118.76,356.9 117,354.9" fill="#000000" stroke="#000" stroke-width="0.6" stroke-linejoin="round"/>
<polygon points="129.38,352.8 131.13,350.8 135.62,350.8 137.38,352.8 137.38,353.8 135.62,355.8 131.13,355.8 129.38,353.8" fill="#000000" stroke="#000" stroke-width="0.6" stroke-linejoin="round"/>
<polygon points="141.75,355.5 143.51,353.5 147.99,353.5 149.75,355.5 149.75,356.5 147.99,358.5 143.51,358.5 141.75,356.5" fill="#000000" stroke="#000" stroke-width="0.6" stroke-linejoin="round"/>
<polygon points="154.12,347.3 155.88,345.3 160.37,345.3 162.12,347.3 162.12,348.3 160.37,350.3 155.88,350.3 154.12,348.3" fill="#000000" stroke="#000" stroke-width="0.6" stroke-linejoin="round"/>
<polygon points="166.5,345.6 168.26,343.6 172.74,343.6 174.5,345.6 174.5,346.6 172.74,348.6 168.26,348.6 166.5,346.6" fill="#000000" stroke="#000" stroke-width="0.6" stroke-linejoin="round"/>
<polygon points="178.88,334.2 180.63,332.2 185.12,332.2 186.88,334.2 186.88,335.2 185.12,337.2 180.63,337.2 178.88,335.2" fill="#000000" stroke="#000" stroke-width="0.6" stroke-linejoin="round"/>
<polygon points="191.25,329.4 193.01,327.4 197.49,327.4 199.25,329.4 199.25,330.4 197.49,332.4 193.01,332.4 191.25,330.4" fill="#000000" stroke="#000" stroke-width="0.6" stroke-linejoin="round"/>
<polygon points="203.62,319.4 205.38,317.4 209.87,317.4 211.62,319.4 211.62,320.4 209.87,322.4 205.38,322.4 203.62,320.4" fill="#000000" stroke="#000" stroke-width="0.6" stroke-linejoin="round"/>
<polygon points="216,312.7 217.76,310.7 222.24,310.7 224,312.7 224,313.7 222.24,315.7 217.76,315.7 216,313.7" fill="#000000" stroke="#000" stroke-width="0.6" stroke-linejoin="round"/>
<polygon points="228.38,312.7 230.13,310.7 234.62,310.7 236.38,312.7 236.38,313.7 234.62,315.7 230.13,315.7 228.38,313.7" fill="#000000" stroke="#000" stroke-width="0.6" stroke-linejoin="round"/>
<polygon points="240.75,309.1 242.51,307.1 246.99,307.1 248.75,309.1 248.75,310.1 246.99,312.1 242.51,312.1 240.75,310.1" fill="#000000" stroke="#000" stroke-width="0.6" stroke-linejoin="round"/>
<polygon points="253.12,332.5 254.88,330.5 259.37,330.5 261.12,332.5 261.12,333.5 259.37,335.5 254.88,335.5 253.12,333.5" fill="#000000" stroke="#000" stroke-width="0.6" stroke-linejoin="round"/>
</g>
<rect x="71.5" y="278" width="198" height="93" fill="none" stroke="#222222" stroke-width="1"/>
<line x1="71.5" y1="371" x2="71.5" y2="368" stroke="#222222" stroke-width="1"/>
<line x1="71.5" y1="278" x2="71.5" y2="281" stroke="#222222" stroke-width="1"/>
<text transform="matrix(12.5 0 0 8.6 68.02 380)" font-size="1" font-family='"Liberation Sans", sans-serif' font-weight="normal" fill="#000">0</text>
<line x1="96.25" y1="371" x2="96.25" y2="368" stroke="#222222" stroke-width="1"/>
<line x1="96.25" y1="278" x2="96.25" y2="281" stroke="#222222" stroke-width="1"/>
<text transform="matrix(12.5 0 0 8.6 92.78 380)" font-size="1" font-family='"Liberation Sans", sans-serif' font-weight="normal" fill="#000">2</text>
<line x1="121" y1="371" x2="121" y2="368" stroke="#222222" stroke-width="1"/>
<line x1="121" y1="278" x2="121" y2="281" stroke="#222222" stroke-width="1"/>
<text transform="matrix(12.5 0 0 8.6 117.56 380)" font-size="1" font-family='"Liberation Sans", sans-serif' font-weight="normal" fill="#000">4</text>
<line x1="145.75" y1="371" x2="145.75" y2="368" stroke="#222222" stroke-width="1"/>
<line x1="145.75" y1="278" x2="145.75" y2="281" stroke="#222222" stroke-width="1"/>
<text transform="matrix(12.5 0 0 8.6 142.23 380)" font-size="1" font-family='"Liberation Sans", sans-serif' font-weight="normal" fill="#000">6</text>
<line x1="170.5" y1="371" x2="170.5" y2="368" stroke="#222222" stroke-width="1"/>
<line x1="170.5" y1="278" x2="170.5" y2="281" stroke="#222222" stroke-width="1"/>
<text transform="matrix(12.5 0 0 8.6 167.03 380)" font-size="1" font-family='"Liberation Sans", sans-serif' font-weight="normal" fill="#000">8</text>
<line x1="195.25" y1="371" x2="195.25" y2="368" stroke="#222222" stroke-width="1"/>
<line x1="195.25" y1="278" x2="195.25" y2="281" stroke="#222222" stroke-width="1"/>
<text transform="matrix(12.5 0 0 8.6 188.08 380)" font-size="1" font-family='"Liberation Sans", sans-serif' font-weight="normal" fill="#000">10</text>
<line x1="220" y1="371" x2="220" y2="368" stroke="#222222" stroke-width="1"/>
<line x1="220" y1="278" x2="220" y2="281" stroke="#222222" stroke-width="1"/>
<text transform="matrix(12.5 0 0 8.6 212.91 380)" font-size="1" font-family='"Liberation Sans", sans-serif' font-weight="normal" fill="#000">12</text>
<line x1="244.75" y1="371" x2="244.75" y2="368" stroke="#222222" stroke-width="1"/>
<line x1="244.75" y1="278" x2="244.75" y2="281" stroke="#222222" stroke-width="1"/>
<text transform="matrix(12.5 0 0 8.6 237.52 380)" font-size="1" font-family='"Liberation Sans", sans-serif' font-weight="normal" fill="#000">14</text>
<line x1="269.5" y1="371" x2="269.5" y2="368" stroke="#222222" stroke-width="1"/>
<line x1="269.5" y1="278" x2="269.5" y2="281" stroke="#222222" stroke-width="1"/>
<text transform="matrix(12.5 0 0 8.6 262.36 380)" font-size="1" font-family='"Liberation Sans", sans-serif' font-weight="normal" fill="#000">16</text>
<line x1="71.5" y1="277.8" x2="75.5" y2="277.8" stroke="#222222" stroke-width="1"/>
<text transform="matrix(12.87 0 0 9.2 43.31 280.8)" font-size="1" font-family='"Liberation Sans", sans-serif' font-weight="normal" fill="#000">0.92</text>
<line x1="71.5" y1="314.7" x2="75.5" y2="314.7" stroke="#222222" stroke-width="1"/>
<text transform="matrix(12.87 0 0 9.2 43.28 317.7)" font-size="1" font-family='"Liberation Sans", sans-serif' font-weight="normal" fill="#000">0.91</text>
<line x1="71.5" y1="351.6" x2="75.5" y2="351.6" stroke="#222222" stroke-width="1"/>
<text transform="matrix(12.87 0 0 9.2 43.15 354.6)" font-size="1" font-family='"Liberation Sans", sans-serif' font-weight="normal" fill="#000">0.90</text>
<g clip-path="url(#cr)">
<polyline points="444.5,302 454.83,287 465.16,269 475.49,273.6 485.82,240.2 496.14,218.5 506.47,259.4 516.8,247.8 527.13,216 537.46,227.2 547.79,217.5 558.12,214 568.45,213.4 578.78,212.5 589.11,198.2 599.43,185.8 609.76,189.6 620.09,185.2 630.42,178.5 640.75,184.8 651.08,179.6 661.41,176.4 671.74,172 682.07,168.8 692.4,173 702.73,176 713.05,181 723.38,186 733.71,179 744.04,172.9 754.37,175.2 764.7,165.3 775.03,177.8 785.36,177.8" fill="none" stroke="#ff2020" stroke-width="1.4" stroke-linejoin="round"/>
<polygon points="440.35,298.9 448.65,298.9 444.5,305.1" fill="#ff0000" stroke="#000" stroke-width="0.6" stroke-linejoin="round"/>
<polygon points="450.68,283.9 458.98,283.9 454.83,290.1" fill="#ff0000" stroke="#000" stroke-width="0.6" stroke-linejoin="round"/>
<polygon points="461.01,265.9 469.31,265.9 465.16,272.1" fill="#ff0000" stroke="#000" stroke-width="0.6" stroke-linejoin="round"/>
<polygon points="471.34,270.5 479.64,270.5 475.49,276.7" fill="#ff0000" stroke="#000" stroke-width="0.6" stroke-linejoin="round"/>
<polygon points="481.67,237.1 489.97,237.1 485.82,243.3" fill="#ff0000" stroke="#000" stroke-width="0.6" stroke-linejoin="round"/>
<polygon points="492,215.4 500.29,215.4 496.14,221.6" fill="#ff0000" stroke="#000" stroke-width="0.6" stroke-linejoin="round"/>
<polygon points="502.32,256.3 510.62,256.3 506.47,262.5" fill="#ff0000" stroke="#000" stroke-width="0.6" stroke-linejoin="round"/>
<polygon points="512.65,244.7 520.95,244.7 516.8,250.9" fill="#ff0000" stroke="#000" stroke-width="0.6" stroke-linejoin="round"/>
<polygon points="522.98,212.9 531.28,212.9 527.13,219.1" fill="#ff0000" stroke="#000" stroke-width="0.6" stroke-linejoin="round"/>
<polygon points="533.31,224.1 541.61,224.1 537.46,230.3" fill="#ff0000" stroke="#000" stroke-width="0.6" stroke-linejoin="round"/>
<polygon points="543.64,214.4 551.94,214.4 547.79,220.6" fill="#ff0000" stroke="#000" stroke-width="0.6" stroke-linejoin="round"/>
<polygon points="553.97,210.9 562.27,210.9 558.12,217.1" fill="#ff0000" stroke="#000" stroke-width="0.6" stroke-linejoin="round"/>
<polygon points="564.3,210.3 572.6,210.3 568.45,216.5" fill="#ff0000" stroke="#000" stroke-width="0.6" stroke-linejoin="round"/>
<polygon points="574.63,209.4 582.93,209.4 578.78,215.6" fill="#ff0000" stroke="#000" stroke-width="0.6" stroke-linejoin="round"/>
<polygon points="584.96,195.1 593.26,195.1 589.11,201.3" fill="#ff0000" stroke="#000" stroke-width="0.6" stroke-linejoin="round"/>
<polygon points="595.28,182.7 603.58,182.7 599.43,188.9" fill="#ff0000" stroke="#000" stroke-width="0.6" stroke-linejoin="round"/>
<polygon points="605.61,186.5 613.91,186.5 609.76,192.7" fill="#ff0000" stroke="#000" stroke-width="0.6" stroke-linejoin="round"/>
<polygon points="615.94,182.1 624.24,182.1 620.09,188.3" fill="#ff0000" stroke="#000" stroke-width="0.6" stroke-linejoin="round"/>
<polygon points="626.27,175.4 634.57,175.4 630.42,181.6" fill="#ff0000" stroke="#000" stroke-width="0.6" stroke-linejoin="round"/>
<polygon points="636.6,181.7 644.9,181.7 640.75,187.9" fill="#ff0000" stroke="#000" stroke-width="0.6" stroke-linejoin="round"/>
<polygon points="646.93,176.5 655.23,176.5 651.08,182.7" fill="#ff0000" stroke="#000" stroke-width="0.6" stroke-linejoin="round"/>
<polygon points="657.26,173.3 665.56,173.3 661.41,179.5" fill="#ff0000" stroke="#000" stroke-width="0.6" stroke-linejoin="round"/>
<polygon points="667.59,168.9 675.89,168.9 671.74,175.1" fill="#ff0000" stroke="#000" stroke-width="0.6" stroke-linejoin="round"/>
<polygon points="677.92,165.7 686.22,165.7 682.07,171.9" fill="#ff0000" stroke="#000" stroke-width="0.6" stroke-linejoin="round"/>
<polygon points="688.25,169.9 696.55,169.9 692.4,176.1" fill="#ff0000" stroke="#000" stroke-width="0.6" stroke-linejoin="round"/>
<polygon points="698.58,172.9 706.88,172.9 702.73,179.1" fill="#ff0000" stroke="#000" stroke-width="0.6" stroke-linejoin="round"/>
<polygon points="708.9,177.9 717.2,177.9 713.05,184.1" fill="#ff0000" stroke="#000" stroke-width="0.6" stroke-linejoin="round"/>
<polygon points="719.23,182.9 727.53,182.9 723.38,189.1" fill="#ff0000" stroke="#000" stroke-width="0.6" stroke-linejoin="round"/>
<polygon points="729.56,175.9 737.86,175.9 733.71,182.1" fill="#ff0000" stroke="#000" stroke-width="0.6" stroke-linejoin="round"/>
<polygon points="739.89,169.8 748.19,169.8 744.04,176" fill="#ff0000" stroke="#000" stroke-width="0.6" stroke-linejoin="round"/>
<polygon points="750.22,172.1 758.52,172.1 754.37,178.3" fill="#ff0000" stroke="#000" stroke-width="0.6" stroke-linejoin="round"/>
<polygon points="760.55,162.2 768.85,162.2 764.7,168.4" fill="#ff0000" stroke="#000" stroke-width="0.6" stroke-linejoin="round"/>
<polygon points="770.88,174.7 779.18,174.7 775.03,180.9" fill="#ff0000" stroke="#000" stroke-width="0.6" stroke-linejoin="round"/>
<polygon points="781.21,174.7 789.51,174.7 785.36,180.9" fill="#ff0000" stroke="#000" stroke-width="0.6" stroke-linejoin="round"/>
</g>
<g clip-path="url(#cr)">
<polyline points="444.5,302 454.83,283.2 465.16,265 475.49,248.9 485.82,232.6 496.14,205.4 506.47,205.8 516.8,185.8 527.13,184.3 537.46,186.8 547.79,185.4 558.12,176.3 568.45,165.8 578.78,148.9 589.11,140.7 599.43,136.9 609.76,132.7 620.09,119.7 630.42,119 640.75,113.2 651.08,111.8 661.41,104.2 671.74,103.2 682.07,103.2 692.4,102.3 702.73,91.8 713.05,87.9 723.38,81.5 733.71,76.4 744.04,70.5 754.37,68.5 764.7,61.5 775.03,59.6 785.36,59.6" fill="none" stroke="#0000ee" stroke-width="1.4" stroke-linejoin="round"/>
<polygon points="444.5,299.4 448.4,301.39 446.91,304.6 442.09,304.6 440.6,301.39" fill="#0000ff" stroke="#000" stroke-width="0.6" stroke-linejoin="round"/>
<polygon points="454.83,280.6 458.73,282.59 457.24,285.8 452.42,285.8 450.93,282.59" fill="#0000ff" stroke="#000" stroke-width="0.6" stroke-linejoin="round"/>
<polygon points="465.16,262.4 469.06,264.39 467.57,267.6 462.75,267.6 461.26,264.39" fill="#0000ff" stroke="#000" stroke-width="0.6" stroke-linejoin="round"/>
<polygon points="475.49,246.3 479.39,248.29 477.9,251.5 473.08,251.5 471.59,248.29" fill="#0000ff" stroke="#000" stroke-width="0.6" stroke-linejoin="round"/>
<polygon points="485.82,230 489.72,231.99 488.23,235.2 483.41,235.2 481.92,231.99" fill="#0000ff" stroke="#000" stroke-width="0.6" stroke-linejoin="round"/>
<polygon points="496.14,202.8 500.05,204.79 498.56,208 493.73,208 492.24,204.79" fill="#0000ff" stroke="#000" stroke-width="0.6" stroke-linejoin="round"/>
<polygon points="506.47,203.2 510.37,205.19 508.88,208.4 504.06,208.4 502.57,205.19" fill="#0000ff" stroke="#000" stroke-width="0.6" stroke-linejoin="round"/>
<polygon points="516.8,183.2 520.7,185.19 519.21,188.4 514.39,188.4 512.9,185.19" fill="#0000ff" stroke="#000" stroke-width="0.6" stroke-linejoin="round"/>
<polygon points="527.13,181.7 531.03,183.69 529.54,186.9 524.72,186.9 523.23,183.69" fill="#0000ff" stroke="#000" stroke-width="0.6" stroke-linejoin="round"/>
<polygon points="537.46,184.2 541.36,186.19 539.87,189.4 535.05,189.4 533.56,186.19" fill="#0000ff" stroke="#000" stroke-width="0.6" stroke-linejoin="round"/>
<polygon points="547.79,182.8 551.69,184.79 550.2,188 545.38,188 543.89,184.79" fill="#0000ff" stroke="#000" stroke-width="0.6" stroke-linejoin="round"/>
<polygon points="558.12,173.7 562.02,175.69 560.53,178.9 555.71,178.9 554.22,175.69" fill="#0000ff" stroke="#000" stroke-width="0.6" stroke-linejoin="round"/>
<polygon points="568.45,163.2 572.35,165.19 570.86,168.4 566.04,168.4 564.55,165.19" fill="#0000ff" stroke="#000" stroke-width="0.6" stroke-linejoin="round"/>
<polygon points="578.78,146.3 582.68,148.29 581.19,151.5 576.37,151.5 574.88,148.29" fill="#0000ff" stroke="#000" stroke-width="0.6" stroke-linejoin="round"/>
<polygon points="589.11,138.1 593.01,140.09 591.52,143.3 586.7,143.3 585.21,140.09" fill="#0000ff" stroke="#000" stroke-width="0.6" stroke-linejoin="round"/>
<polygon points="599.43,134.3 603.34,136.29 601.85,139.5 597.02,139.5 595.53,136.29" fill="#0000ff" stroke="#000" stroke-width="0.6" stroke-linejoin="round"/>
<polygon points="609.76,130.1 613.66,132.09 612.17,135.3 607.35,135.3 605.86,132.09" fill="#0000ff" stroke="#000" stroke-width="0.6" stroke-linejoin="round"/>
<polygon points="620.09,117.1 623.99,119.09 622.5,122.3 617.68,122.3 616.19,119.09" fill="#0000ff" stroke="#000" stroke-width="0.6" stroke-linejoin="round"/>
<polygon points="630.42,116.4 634.32,118.39 632.83,121.6 628.01,121.6 626.52,118.39" fill="#0000ff" stroke="#000" stroke-width="0.6" stroke-linejoin="round"/>
<polygon points="640.75,110.6 644.65,112.59 643.16,115.8 638.34,115.8 636.85,112.59" fill="#0000ff" stroke="#000" stroke-width="0.6" stroke-linejoin="round"/>
<polygon points="651.08,109.2 654.98,111.19 653.49,114.4 648.67,114.4 647.18,111.19" fill="#0000ff" stroke="#000" stroke-width="0.6" stroke-linejoin="round"/>
<polygon points="661.41,101.6 665.31,103.59 663.82,106.8 659,106.8 657.51,103.59" fill="#0000ff" stroke="#000" stroke-width="0.6" stroke-linejoin="round"/>
<polygon points="671.74,100.6 675.64,102.59 674.15,105.8 669.33,105.8 667.84,102.59" fill="#0000ff" stroke="#000" stroke-width="0.6" stroke-linejoin="round"/>
<polygon points="682.07,100.6 685.97,102.59 684.48,105.8 679.66,105.8 678.17,102.59" fill="#0000ff" stroke="#000" stroke-width="0.6" stroke-linejoin="round"/>
<polygon points="692.4,99.7 696.3,101.69 694.81,104.9 689.99,104.9 688.5,101.69" fill="#0000ff" stroke="#000" stroke-width="0.6" stroke-linejoin="round"/>
<polygon points="702.73,89.2 706.63,91.19 705.14,94.4 700.31,94.4 698.82,91.19" fill="#0000ff" stroke="#000" stroke-width="0.6" stroke-linejoin="round"/>
<polygon points="713.05,85.3 716.95,87.29 715.46,90.5 710.64,90.5 709.15,87.29" fill="#0000ff" stroke="#000" stroke-width="0.6" stroke-linejoin="round"/>
<polygon points="723.38,78.9 727.28,80.89 725.79,84.1 720.97,84.1 719.48,80.89" fill="#0000ff" stroke="#000" stroke-width="0.6" stroke-linejoin="round"/>
<polygon points="733.71,73.8 737.61,75.79 736.12,79 731.3,79 729.81,75.79" fill="#0000ff" stroke="#000" stroke-width="0.6" stroke-linejoin="round"/>
<polygon points="744.04,67.9 747.94,69.89 746.45,73.1 741.63,73.1 740.14,69.89" fill="#0000ff" stroke="#000" stroke-width="0.6" stroke-linejoin="round"/>
<polygon points="754.37,65.9 758.27,67.89 756.78,71.1 751.96,71.1 750.47,67.89" fill="#0000ff" stroke="#000" stroke-width="0.6" stroke-linejoin="round"/>
<polygon points="764.7,58.9 768.6,60.89 767.11,64.1 762.29,64.1 760.8,60.89" fill="#0000ff" stroke="#000" stroke-width="0.6" stroke-linejoin="round"/>
<polygon points="775.03,57 778.93,58.99 777.44,62.2 772.62,62.2 771.13,58.99" fill="#0000ff" stroke="#000" stroke-width="0.6" stroke-linejoin="round"/>
<polygon points="785.36,57 789.26,58.99 787.77,62.2 782.95,62.2 781.46,58.99" fill="#0000ff" stroke="#000" stroke-width="0.6" stroke-linejoin="round"/>
</g>
<g clip-path="url(#cr)">
<polyline points="444.5,302 454.83,292.7 465.16,280.3 475.49,272.3 485.82,259.4 496.14,248.5 506.47,238.5 516.8,229.3 527.13,222 537.46,208.1 547.79,202.2 558.12,195.5 568.45,191.7 578.78,187.7 589.11,181.6 599.43,178.2 609.76,173.4 620.09,167.7 630.42,166.3 640.75,160 651.08,155.4 661.41,152.4 671.74,153.5 682.07,147.8 692.4,149.7 702.73,145.3 713.05,141.6 723.38,139.8 733.71,136 744.04,131.6 754.37,126.5 764.7,124 775.03,122.7 785.36,112.6" fill="none" stroke="#bf00bf" stroke-width="1.4" stroke-linejoin="round"/>
<polygon points="440.5,299.3 448.5,299.3 448.5,304.7 440.5,304.7" fill="#bf00bf" stroke="#000" stroke-width="0.6" stroke-linejoin="round"/>
<polygon points="450.83,290 458.83,290 458.83,295.4 450.83,295.4" fill="#bf00bf" stroke="#000" stroke-width="0.6" stroke-linejoin="round"/>
<polygon points="461.16,277.6 469.16,277.6 469.16,283 461.16,283" fill="#bf00bf" stroke="#000" stroke-width="0.6" stroke-linejoin="round"/>
<polygon points="471.49,269.6 479.49,269.6 479.49,275 471.49,275" fill="#bf00bf" stroke="#000" stroke-width="0.6" stroke-linejoin="round"/>
<polygon points="481.82,256.7 489.82,256.7 489.82,262.1 481.82,262.1" fill="#bf00bf" stroke="#000" stroke-width="0.6" stroke-linejoin="round"/>
<polygon points="492.14,245.8 500.14,245.8 500.14,251.2 492.14,251.2" fill="#bf00bf" stroke="#000" stroke-width="0.6" stroke-linejoin="round"/>
<polygon points="502.47,235.8 510.47,235.8 510.47,241.2 502.47,241.2" fill="#bf00bf" stroke="#000" stroke-width="0.6" stroke-linejoin="round"/>
<polygon points="512.8,226.6 520.8,226.6 520.8,232 512.8,232" fill="#bf00bf" stroke="#000" stroke-width="0.6" stroke-linejoin="round"/>
<polygon points="523.13,219.3 531.13,219.3 531.13,224.7 523.13,224.7" fill="#bf00bf" stroke="#000" stroke-width="0.6" stroke-linejoin="round"/>
<polygon points="533.46,205.4 541.46,205.4 541.46,210.8 533.46,210.8" fill="#bf00bf" stroke="#000" stroke-width="0.6" stroke-linejoin="round"/>
<polygon points="543.79,199.5 551.79,199.5 551.79,204.9 543.79,204.9" fill="#bf00bf" stroke="#000" stroke-width="0.6" stroke-linejoin="round"/>
<polygon points="554.12,192.8 562.12,192.8 562.12,198.2 554.12,198.2" fill="#bf00bf" stroke="#000" stroke-width="0.6" stroke-linejoin="round"/>
<polygon points="564.45,189 572.45,189 572.45,194.4 564.45,194.4" fill="#bf00bf" stroke="#000" stroke-width="0.6" stroke-linejoin="round"/>
<polygon points="574.78,185 582.78,185 582.78,190.4 574.78,190.4" fill="#bf00bf" stroke="#000" stroke-width="0.6" stroke-linejoin="round"/>
<polygon points="585.11,178.9 593.11,178.9 593.11,184.3 585.11,184.3" fill="#bf00bf" stroke="#000" stroke-width="0.6" stroke-linejoin="round"/>
<polygon points="595.43,175.5 603.43,175.5 603.43,180.9 595.43,180.9" fill="#bf00bf" stroke="#000" stroke-width="0.6" stroke-linejoin="round"/>
<polygon points="605.76,170.7 613.76,170.7 613.76,176.1 605.76,176.1" fill="#bf00bf" stroke="#000" stroke-width="0.6" stroke-linejoin="round"/>
<polygon points="616.09,165 624.09,165 624.09,170.4 616.09,170.4" fill="#bf00bf" stroke="#000" stroke-width="0.6" stroke-linejoin="round"/>
<polygon points="626.42,163.6 634.42,163.6 634.42,169 626.42,169" fill="#bf00bf" stroke="#000" stroke-width="0.6" stroke-linejoin="round"/>
<polygon points="636.75,157.3 644.75,157.3 644.75,162.7 636.75,162.7" fill="#bf00bf" stroke="#000" stroke-width="0.6" stroke-linejoin="round"/>
<polygon points="647.08,152.7 655.08,152.7 655.08,158.1 647.08,158.1" fill="#bf00bf" stroke="#000" stroke-width="0.6" stroke-linejoin="round"/>
<polygon points="657.41,149.7 665.41,149.7 665.41,155.1 657.41,155.1" fill="#bf00bf" stroke="#000" stroke-width="0.6" stroke-linejoin="round"/>
<polygon points="667.74,150.8 675.74,150.8 675.74,156.2 667.74,156.2" fill="#bf00bf" stroke="#000" stroke-width="0.6" stroke-linejoin="round"/>
<polygon points="678.07,145.1 686.07,145.1 686.07,150.5 678.07,150.5" fill="#bf00bf" stroke="#000" stroke-width="0.6" stroke-linejoin="round"/>
<polygon points="688.4,147 696.4,147 696.4,152.4 688.4,152.4" fill="#bf00bf" stroke="#000" stroke-width="0.6" stroke-linejoin="round"/>
<polygon points="698.73,142.6 706.73,142.6 706.73,148 698.73,148" fill="#bf00bf" stroke="#000" stroke-width="0.6" stroke-linejoin="round"/>
<polygon points="709.05,138.9 717.05,138.9 717.05,144.3 709.05,144.3" fill="#bf00bf" stroke="#000" stroke-width="0.6" stroke-linejoin="round"/>
<polygon points="719.38,137.1 727.38,137.1 727.38,142.5 719.38,142.5" fill="#bf00bf" stroke="#000" stroke-width="0.6" stroke-linejoin="round"/>
<polygon points="729.71,133.3 737.71,133.3 737.71,138.7 729.71,138.7" fill="#bf00bf" stroke="#000" stroke-width="0.6" stroke-linejoin="round"/>
<polygon points="740.04,128.9 748.04,128.9 748.04,134.3 740.04,134.3" fill="#bf00bf" stroke="#000" stroke-width="0.6" stroke-linejoin="round"/>
<polygon points="750.37,123.8 758.37,123.8 758.37,129.2 750.37,129.2" fill="#bf00bf" stroke="#000" stroke-width="0.6" stroke-linejoin="round"/>
<polygon points="760.7,121.3 768.7,121.3 768.7,126.7 760.7,126.7" fill="#bf00bf" stroke="#000" stroke-width="0.6" stroke-linejoin="round"/>
<polygon points="771.03,120 779.03,120 779.03,125.4 771.03,125.4" fill="#bf00bf" stroke="#000" stroke-width="0.6" stroke-linejoin="round"/>
<polygon points="781.36,109.9 789.36,109.9 789.36,115.3 781.36,115.3" fill="#bf00bf" stroke="#000" stroke-width="0.6" stroke-linejoin="round"/>
</g>
<g clip-path="url(#cr)">
<polyline points="444.5,302 454.83,268.6 465.16,251.8 475.49,264 485.82,189.6 496.14,182" fill="none" stroke="#d0d030" stroke-width="1.4" stroke-linejoin="round"/>
<polygon points="444.5,298.99 445.53,301.09 448.2,301.28 446.17,302.76 446.79,304.98 444.5,303.79 442.21,304.98 442.83,302.76 440.8,301.28 443.47,301.09" fill="#d4d436" stroke="#000" stroke-width="0.9" stroke-linejoin="round"/>
<polygon points="454.83,265.59 455.86,267.69 458.53,267.88 456.49,269.36 457.12,271.58 454.83,270.39 452.54,271.58 453.16,269.36 451.13,267.88 453.8,267.69" fill="#d4d436" stroke="#000" stroke-width="0.9" stroke-linejoin="round"/>
<polygon points="465.16,248.79 466.19,250.89 468.86,251.08 466.82,252.56 467.44,254.78 465.16,253.59 462.87,254.78 463.49,252.56 461.46,251.08 464.13,250.89" fill="#d4d436" stroke="#000" stroke-width="0.9" stroke-linejoin="round"/>
<polygon points="475.49,260.99 476.52,263.09 479.19,263.28 477.15,264.76 477.77,266.98 475.49,265.79 473.2,266.98 473.82,264.76 471.79,263.28 474.46,263.09" fill="#d4d436" stroke="#000" stroke-width="0.9" stroke-linejoin="round"/>
<polygon points="485.82,186.59 486.85,188.69 489.52,188.88 487.48,190.36 488.1,192.58 485.82,191.39 483.53,192.58 484.15,190.36 482.12,188.88 484.79,188.69" fill="#d4d436" stroke="#000" stroke-width="0.9" stroke-linejoin="round"/>
<polygon points="496.14,178.99 497.17,181.09 499.85,181.28 497.81,182.76 498.43,184.98 496.14,183.79 493.86,184.98 494.48,182.76 492.44,181.28 495.12,181.09" fill="#d4d436" stroke="#000" stroke-width="0.9" stroke-linejoin="round"/>
</g>
<g clip-path="url(#cr)">
<polyline points="444.5,302.3 454.83,299.8 465.16,266 475.49,241.8 485.82,237.4 496.14,217.3 506.47,204.8 516.8,185.8 527.13,163.9 537.46,160.6 547.79,156.2 558.12,157.2 568.45,160 578.78,110.8 589.11,105 599.43,110.2 609.76,133.7 620.09,103.1 630.42,102.6 640.75,104.1 651.08,90.8 661.41,83.7 671.74,75.2 682.07,79 692.4,71.3 702.73,73.6 713.05,70.4 723.38,75.8 733.71,69.1 744.04,62.1 754.37,54.4 764.7,54.4 775.03,54.4 785.36,52" fill="none" stroke="#000000" stroke-width="1.4" stroke-linejoin="round"/>
<polygon points="440.5,301.8 442.26,299.8 446.74,299.8 448.5,301.8 448.5,302.8 446.74,304.8 442.26,304.8 440.5,302.8" fill="#000000" stroke="#000" stroke-width="0.6" stroke-linejoin="round"/>
<polygon points="450.83,299.3 452.59,297.3 457.07,297.3 458.83,299.3 458.83,300.3 457.07,302.3 452.59,302.3 450.83,300.3" fill="#000000" stroke="#000" stroke-width="0.6" stroke-linejoin="round"/>
<polygon points="461.16,265.5 462.92,263.5 467.4,263.5 469.16,265.5 469.16,266.5 467.4,268.5 462.92,268.5 461.16,266.5" fill="#000000" stroke="#000" stroke-width="0.6" stroke-linejoin="round"/>
<polygon points="471.49,241.3 473.25,239.3 477.73,239.3 479.49,241.3 479.49,242.3 477.73,244.3 473.25,244.3 471.49,242.3" fill="#000000" stroke="#000" stroke-width="0.6" stroke-linejoin="round"/>
<polygon points="481.82,236.9 483.58,234.9 488.06,234.9 489.82,236.9 489.82,237.9 488.06,239.9 483.58,239.9 481.82,237.9" fill="#000000" stroke="#000" stroke-width="0.6" stroke-linejoin="round"/>
<polygon points="492.14,216.8 493.9,214.8 498.38,214.8 500.14,216.8 500.14,217.8 498.38,219.8 493.9,219.8 492.14,217.8" fill="#000000" stroke="#000" stroke-width="0.6" stroke-linejoin="round"/>
<polygon points="502.47,204.3 504.23,202.3 508.71,202.3 510.47,204.3 510.47,205.3 508.71,207.3 504.23,207.3 502.47,205.3" fill="#000000" stroke="#000" stroke-width="0.6" stroke-linejoin="round"/>
<polygon points="512.8,185.3 514.56,183.3 519.04,183.3 520.8,185.3 520.8,186.3 519.04,188.3 514.56,188.3 512.8,186.3" fill="#000000" stroke="#000" stroke-width="0.6" stroke-linejoin="round"/>
<polygon points="523.13,163.4 524.89,161.4 529.37,161.4 531.13,163.4 531.13,164.4 529.37,166.4 524.89,166.4 523.13,164.4" fill="#000000" stroke="#000" stroke-width="0.6" stroke-linejoin="round"/>
<polygon points="533.46,160.1 535.22,158.1 539.7,158.1 541.46,160.1 541.46,161.1 539.7,163.1 535.22,163.1 533.46,161.1" fill="#000000" stroke="#000" stroke-width="0.6" stroke-linejoin="round"/>
<polygon points="543.79,155.7 545.55,153.7 550.03,153.7 551.79,155.7 551.79,156.7 550.03,158.7 545.55,158.7 543.79,156.7" fill="#000000" stroke="#000" stroke-width="0.6" stroke-linejoin="round"/>
<polygon points="554.12,156.7 555.88,154.7 560.36,154.7 562.12,156.7 562.12,157.7 560.36,159.7 555.88,159.7 554.12,157.7" fill="#000000" stroke="#000" stroke-width="0.6" stroke-linejoin="round"/>
<polygon points="564.45,159.5 566.21,157.5 570.69,157.5 572.45,159.5 572.45,160.5 570.69,162.5 566.21,162.5 564.45,160.5" fill="#000000" stroke="#000" stroke-width="0.6" stroke-linejoin="round"/>
<polygon points="574.78,110.3 576.54,108.3 581.02,108.3 582.78,110.3 582.78,111.3 581.02,113.3 576.54,113.3 574.78,111.3" fill="#000000" stroke="#000" stroke-width="0.6" stroke-linejoin="round"/>
<polygon points="585.11,104.5 586.87,102.5 591.35,102.5 593.11,104.5 593.11,105.5 591.35,107.5 586.87,107.5 585.11,105.5" fill="#000000" stroke="#000" stroke-width="0.6" stroke-linejoin="round"/>
<polygon points="595.43,109.7 597.19,107.7 601.67,107.7 603.43,109.7 603.43,110.7 601.67,112.7 597.19,112.7 595.43,110.7" fill="#000000" stroke="#000" stroke-width="0.6" stroke-linejoin="round"/>
<polygon points="605.76,133.2 607.52,131.2 612,131.2 613.76,133.2 613.76,134.2 612,136.2 607.52,136.2 605.76,134.2" fill="#000000" stroke="#000" stroke-width="0.6" stroke-linejoin="round"/>
<polygon points="616.09,102.6 617.85,100.6 622.33,100.6 624.09,102.6 624.09,103.6 622.33,105.6 617.85,105.6 616.09,103.6" fill="#000000" stroke="#000" stroke-width="0.6" stroke-linejoin="round"/>
<polygon points="626.42,102.1 628.18,100.1 632.66,100.1 634.42,102.1 634.42,103.1 632.66,105.1 628.18,105.1 626.42,103.1" fill="#000000" stroke="#000" stroke-width="0.6" stroke-linejoin="round"/>
<polygon points="636.75,103.6 638.51,101.6 642.99,101.6 644.75,103.6 644.75,104.6 642.99,106.6 638.51,106.6 636.75,104.6" fill="#000000" stroke="#000" stroke-width="0.6" stroke-linejoin="round"/>
<polygon points="647.08,90.3 648.84,88.3 653.32,88.3 655.08,90.3 655.08,91.3 653.32,93.3 648.84,93.3 647.08,91.3" fill="#000000" stroke="#000" stroke-width="0.6" stroke-linejoin="round"/>
<polygon points="657.41,83.2 659.17,81.2 663.65,81.2 665.41,83.2 665.41,84.2 663.65,86.2 659.17,86.2 657.41,84.2" fill="#000000" stroke="#000" stroke-width="0.6" stroke-linejoin="round"/>
<polygon points="667.74,74.7 669.5,72.7 673.98,72.7 675.74,74.7 675.74,75.7 673.98,77.7 669.5,77.7 667.74,75.7" fill="#000000" stroke="#000" stroke-width="0.6" stroke-linejoin="round"/>
<polygon points="678.07,78.5 679.83,76.5 684.31,76.5 686.07,78.5 686.07,79.5 684.31,81.5 679.83,81.5 678.07,79.5" fill="#000000" stroke="#000" stroke-width="0.6" stroke-linejoin="round"/>
<polygon points="688.4,70.8 690.16,68.8 694.64,68.8 696.4,70.8 696.4,71.8 694.64,73.8 690.16,73.8 688.4,71.8" fill="#000000" stroke="#000" stroke-width="0.6" stroke-linejoin="round"/>
<polygon points="698.73,73.1 700.49,71.1 704.97,71.1 706.73,73.1 706.73,74.1 704.97,76.1 700.49,76.1 698.73,74.1" fill="#000000" stroke="#000" stroke-width="0.6" stroke-linejoin="round"/>
<polygon points="709.05,69.9 710.81,67.9 715.29,67.9 717.05,69.9 717.05,70.9 715.29,72.9 710.81,72.9 709.05,70.9" fill="#000000" stroke="#000" stroke-width="0.6" stroke-linejoin="round"/>
<polygon points="719.38,75.3 721.14,73.3 725.62,73.3 727.38,75.3 727.38,76.3 725.62,78.3 721.14,78.3 719.38,76.3" fill="#000000" stroke="#000" stroke-width="0.6" stroke-linejoin="round"/>
<polygon points="729.71,68.6 731.47,66.6 735.95,66.6 737.71,68.6 737.71,69.6 735.95,71.6 731.47,71.6 729.71,69.6" fill="#000000" stroke="#000" stroke-width="0.6" stroke-linejoin="round"/>
<polygon points="740.04,61.6 741.8,59.6 746.28,59.6 748.04,61.6 748.04,62.6 746.28,64.6 741.8,64.6 740.04,62.6" fill="#000000" stroke="#000" stroke-width="0.6" stroke-linejoin="round"/>
<polygon points="750.37,53.9 752.13,51.9 756.61,51.9 758.37,53.9 758.37,54.9 756.61,56.9 752.13,56.9 750.37,54.9" fill="#000000" stroke="#000" stroke-width="0.6" stroke-linejoin="round"/>
<polygon points="760.7,53.9 762.46,51.9 766.94,51.9 768.7,53.9 768.7,54.9 766.94,56.9 762.46,56.9 760.7,54.9" fill="#000000" stroke="#000" stroke-width="0.6" stroke-linejoin="round"/>
<polygon points="771.03,53.9 772.79,51.9 777.27,51.9 779.03,53.9 779.03,54.9 777.27,56.9 772.79,56.9 771.03,54.9" fill="#000000" stroke="#000" stroke-width="0.6" stroke-linejoin="round"/>
<polygon points="781.36,51.5 783.12,49.5 787.6,49.5 789.36,51.5 789.36,52.5 787.6,54.5 783.12,54.5 781.36,52.5" fill="#000000" stroke="#000" stroke-width="0.6" stroke-linejoin="round"/>
</g>
<path d="M444 22H793" stroke="#222222" stroke-width="1"/>
<path d="M444 383H793" stroke="#222222" stroke-width="1"/>
<path d="M444.5 21.5V383.5" stroke="#222222" stroke-width="1"/>
<path d="M792.5 21.5V383.5" stroke="#222222" stroke-width="1"/>
<line x1="444.5" y1="383" x2="444.5" y2="379.5" stroke="#222222" stroke-width="1"/>
<line x1="444.5" y1="22" x2="444.5" y2="25.5" stroke="#222222" stroke-width="1"/>
<text transform="matrix(24.8 0 0 17.67 437.59 397.6)" font-size="1" font-family='"Liberation Sans", sans-serif' font-weight="normal" fill="#000">0</text>
<line x1="513.5" y1="383" x2="513.5" y2="379.5" stroke="#222222" stroke-width="1"/>
<line x1="513.5" y1="22" x2="513.5" y2="25.5" stroke="#222222" stroke-width="1"/>
<text transform="matrix(24.8 0 0 17.67 499.58 397.6)" font-size="1" font-family='"Liberation Sans", sans-serif' font-weight="normal" fill="#000">20</text>
<line x1="582.5" y1="383" x2="582.5" y2="379.5" stroke="#222222" stroke-width="1"/>
<line x1="582.5" y1="22" x2="582.5" y2="25.5" stroke="#222222" stroke-width="1"/>
<text transform="matrix(24.8 0 0 17.67 568.92 397.6)" font-size="1" font-family='"Liberation Sans", sans-serif' font-weight="normal" fill="#000">40</text>
<line x1="651.5" y1="383" x2="651.5" y2="379.5" stroke="#222222" stroke-width="1"/>
<line x1="651.5" y1="22" x2="651.5" y2="25.5" stroke="#222222" stroke-width="1"/>
<text transform="matrix(24.8 0 0 17.67 637.58 397.6)" font-size="1" font-family='"Liberation Sans", sans-serif' font-weight="normal" fill="#000">60</text>
<line x1="720.5" y1="383" x2="720.5" y2="379.5" stroke="#222222" stroke-width="1"/>
<line x1="720.5" y1="22" x2="720.5" y2="25.5" stroke="#222222" stroke-width="1"/>
<text transform="matrix(24.8 0 0 17.67 706.67 397.6)" font-size="1" font-family='"Liberation Sans", sans-serif' font-weight="normal" fill="#000">80</text>
<line x1="789.5" y1="383" x2="789.5" y2="379.5" stroke="#222222" stroke-width="1"/>
<line x1="789.5" y1="22" x2="789.5" y2="25.5" stroke="#222222" stroke-width="1"/>
<text transform="matrix(24.8 0 0 17.67 768.36 397.6)" font-size="1" font-family='"Liberation Sans", sans-serif' font-weight="normal" fill="#000">100</text>
<line x1="792.5" y1="62.75" x2="788.5" y2="62.75" stroke="#222222" stroke-width="1"/>
<text transform="matrix(24.7 0 0 17.67 796.01 67.65)" font-size="1" font-family='"Liberation Sans", sans-serif' font-weight="normal" fill="#000">0.85</text>
<line x1="792.5" y1="142.8" x2="788.5" y2="142.8" stroke="#222222" stroke-width="1"/>
<text transform="matrix(24.7 0 0 17.67 796.01 147.7)" font-size="1" font-family='"Liberation Sans", sans-serif' font-weight="normal" fill="#000">0.84</text>
<line x1="792.5" y1="222.85" x2="788.5" y2="222.85" stroke="#222222" stroke-width="1"/>
<text transform="matrix(24.7 0 0 17.67 796.01 227.75)" font-size="1" font-family='"Liberation Sans", sans-serif' font-weight="normal" fill="#000">0.83</text>
<line x1="792.5" y1="302.9" x2="788.5" y2="302.9" stroke="#222222" stroke-width="1"/>
<text transform="matrix(24.7 0 0 17.67 796.01 307.8)" font-size="1" font-family='"Liberation Sans", sans-serif' font-weight="normal" fill="#000">0.82</text>
<line x1="792.5" y1="382.95" x2="788.5" y2="382.95" stroke="#222222" stroke-width="1"/>
<text transform="matrix(24.7 0 0 17.67 796.01 387.85)" font-size="1" font-family='"Liberation Sans", sans-serif' font-weight="normal" fill="#000">0.81</text>
<rect x="682.5" y="288" width="102" height="89" fill="#fff" stroke="#222222" stroke-width="1"/>
<line x1="693.3" y1="297.4" x2="714.5" y2="297.4" stroke="#ff2020" stroke-width="1.3"/>
<polygon points="688.7,293.7 697.9,293.7 693.3,301.1" fill="#ff0000" stroke="#000" stroke-width="0.6" stroke-linejoin="round"/>
<polygon points="709.9,293.7 719.1,293.7 714.5,301.1" fill="#ff0000" stroke="#000" stroke-width="0.6" stroke-linejoin="round"/>
<text transform="matrix(17.16 0 0 11.84 731.48 301.7)" font-size="1" font-family='"Liberation Sans", sans-serif' font-weight="normal" fill="#000">Ent</text>
<line x1="693.3" y1="314.25" x2="714.5" y2="314.25" stroke="#0000ee" stroke-width="1.3"/>
<polygon points="693.3,310.85 697.7,313.45 696.02,317.65 690.58,317.65 688.9,313.45" fill="#0000ff" stroke="#000" stroke-width="0.6" stroke-linejoin="round"/>
<polygon points="714.5,310.85 718.9,313.45 717.22,317.65 711.78,317.65 710.1,313.45" fill="#0000ff" stroke="#000" stroke-width="0.6" stroke-linejoin="round"/>
<text transform="matrix(17.16 0 0 11.84 732.04 318.55)" font-size="1" font-family='"Liberation Sans", sans-serif' font-weight="normal" fill="#000">Cov</text>
<line x1="693.3" y1="331.1" x2="714.5" y2="331.1" stroke="#bf00bf" stroke-width="1.3"/>
<polygon points="688.6,327.6 698,327.6 698,334.6 688.6,334.6" fill="#bf00bf" stroke="#000" stroke-width="0.6" stroke-linejoin="round"/>
<polygon points="709.8,327.6 719.2,327.6 719.2,334.6 709.8,334.6" fill="#bf00bf" stroke="#000" stroke-width="0.6" stroke-linejoin="round"/>
<text transform="matrix(17.16 0 0 11.84 731.48 335.4)" font-size="1" font-family='"Liberation Sans", sans-serif' font-weight="normal" fill="#000">Ran</text>
<line x1="693.3" y1="347.95" x2="714.5" y2="347.95" stroke="#d0d030" stroke-width="1.3"/>
<polygon points="693.3,344.68 694.41,346.97 697.3,347.17 695.1,348.77 695.77,351.18 693.3,349.89 690.83,351.18 691.5,348.77 689.3,347.17 692.19,346.97" fill="#d4d436" stroke="#000" stroke-width="0.9" stroke-linejoin="round"/>
<polygon points="714.5,344.68 715.61,346.97 718.5,347.17 716.3,348.77 716.97,351.18 714.5,349.89 712.03,351.18 712.7,348.77 710.5,347.17 713.39,346.97" fill="#d4d436" stroke="#000" stroke-width="0.9" stroke-linejoin="round"/>
<text transform="matrix(17.16 0 0 11.84 731.48 352.25)" font-size="1" font-family='"Liberation Sans", sans-serif' font-weight="normal" fill="#000">MI</text>
<line x1="693.3" y1="364.8" x2="714.5" y2="364.8" stroke="#000000" stroke-width="1.3"/>
<polygon points="689,364.26 690.89,362.1 695.71,362.1 697.6,364.26 697.6,365.34 695.71,367.5 690.89,367.5 689,365.34" fill="#000000" stroke="#000" stroke-width="0.6" stroke-linejoin="round"/>
<polygon points="710.2,364.26 712.09,362.1 716.91,362.1 718.8,364.26 718.8,365.34 716.91,367.5 712.09,367.5 710.2,365.34" fill="#000000" stroke="#000" stroke-width="0.6" stroke-linejoin="round"/>
<text transform="matrix(17.16 0 0 11.84 731.48 369.1)" font-size="1" font-family='"Liberation Sans", sans-serif' font-weight="normal" fill="#000">Fisher</text>
<rect x="486.5" y="278" width="198" height="93" fill="#fff" stroke="none"/>
<g clip-path="url(#cir)">
<polyline points="486.5,360 498.88,348.4 511.25,350.4 523.62,349.8 536,346.8 548.38,340.7 560.75,338.7 573.12,339.7 585.5,341.9 597.88,342.6 610.25,344.2 622.62,344.8 635,319.2 647.38,311.7 659.75,307.2 672.12,306.7" fill="none" stroke="#ff2020" stroke-width="1.4" stroke-linejoin="round"/>
<polygon points="482.35,356.9 490.65,356.9 486.5,363.1" fill="#ff0000" stroke="#000" stroke-width="0.6" stroke-linejoin="round"/>
<polygon points="494.73,345.3 503.02,345.3 498.88,351.5" fill="#ff0000" stroke="#000" stroke-width="0.6" stroke-linejoin="round"/>
<polygon points="507.1,347.3 515.4,347.3 511.25,353.5" fill="#ff0000" stroke="#000" stroke-width="0.6" stroke-linejoin="round"/>
<polygon points="519.48,346.7 527.77,346.7 523.62,352.9" fill="#ff0000" stroke="#000" stroke-width="0.6" stroke-linejoin="round"/>
<polygon points="531.85,343.7 540.15,343.7 536,349.9" fill="#ff0000" stroke="#000" stroke-width="0.6" stroke-linejoin="round"/>
<polygon points="544.23,337.6 552.52,337.6 548.38,343.8" fill="#ff0000" stroke="#000" stroke-width="0.6" stroke-linejoin="round"/>
<polygon points="556.6,335.6 564.9,335.6 560.75,341.8" fill="#ff0000" stroke="#000" stroke-width="0.6" stroke-linejoin="round"/>
<polygon points="568.98,336.6 577.27,336.6 573.12,342.8" fill="#ff0000" stroke="#000" stroke-width="0.6" stroke-linejoin="round"/>
<polygon points="581.35,338.8 589.65,338.8 585.5,345" fill="#ff0000" stroke="#000" stroke-width="0.6" stroke-linejoin="round"/>
<polygon points="593.73,339.5 602.02,339.5 597.88,345.7" fill="#ff0000" stroke="#000" stroke-width="0.6" stroke-linejoin="round"/>
<polygon points="606.1,341.1 614.4,341.1 610.25,347.3" fill="#ff0000" stroke="#000" stroke-width="0.6" stroke-linejoin="round"/>
<polygon points="618.48,341.7 626.77,341.7 622.62,347.9" fill="#ff0000" stroke="#000" stroke-width="0.6" stroke-linejoin="round"/>
<polygon points="630.85,316.1 639.15,316.1 635,322.3" fill="#ff0000" stroke="#000" stroke-width="0.6" stroke-linejoin="round"/>
<polygon points="643.23,308.6 651.52,308.6 647.38,314.8" fill="#ff0000" stroke="#000" stroke-width="0.6" stroke-linejoin="round"/>
<polygon points="655.6,304.1 663.9,304.1 659.75,310.3" fill="#ff0000" stroke="#000" stroke-width="0.6" stroke-linejoin="round"/>
<polygon points="667.98,303.6 676.27,303.6 672.12,309.8" fill="#ff0000" stroke="#000" stroke-width="0.6" stroke-linejoin="round"/>
</g>
<g clip-path="url(#cir)">
<polyline points="486.5,360.6 498.88,360.6 511.25,349.8 523.62,347.8 536,344.8 548.38,338.7 560.75,336.2 573.12,338.7 585.5,327.6 597.88,326 610.25,324.4 622.62,323.1 635,315.4 647.38,307.9 659.75,300.4 672.12,297.7" fill="none" stroke="#0000ee" stroke-width="1.4" stroke-linejoin="round"/>
<polygon points="486.5,358 490.4,359.99 488.91,363.2 484.09,363.2 482.6,359.99" fill="#0000ff" stroke="#000" stroke-width="0.6" stroke-linejoin="round"/>
<polygon points="498.88,358 502.78,359.99 501.29,363.2 496.46,363.2 494.97,359.99" fill="#0000ff" stroke="#000" stroke-width="0.6" stroke-linejoin="round"/>
<polygon points="511.25,347.2 515.15,349.19 513.66,352.4 508.84,352.4 507.35,349.19" fill="#0000ff" stroke="#000" stroke-width="0.6" stroke-linejoin="round"/>
<polygon points="523.62,345.2 527.53,347.19 526.04,350.4 521.21,350.4 519.72,347.19" fill="#0000ff" stroke="#000" stroke-width="0.6" stroke-linejoin="round"/>
<polygon points="536,342.2 539.9,344.19 538.41,347.4 533.59,347.4 532.1,344.19" fill="#0000ff" stroke="#000" stroke-width="0.6" stroke-linejoin="round"/>
<polygon points="548.38,336.1 552.28,338.09 550.79,341.3 545.96,341.3 544.47,338.09" fill="#0000ff" stroke="#000" stroke-width="0.6" stroke-linejoin="round"/>
<polygon points="560.75,333.6 564.65,335.59 563.16,338.8 558.34,338.8 556.85,335.59" fill="#0000ff" stroke="#000" stroke-width="0.6" stroke-linejoin="round"/>
<polygon points="573.12,336.1 577.03,338.09 575.54,341.3 570.71,341.3 569.22,338.09" fill="#0000ff" stroke="#000" stroke-width="0.6" stroke-linejoin="round"/>
<polygon points="585.5,325 589.4,326.99 587.91,330.2 583.09,330.2 581.6,326.99" fill="#0000ff" stroke="#000" stroke-width="0.6" stroke-linejoin="round"/>
<polygon points="597.88,323.4 601.78,325.39 600.29,328.6 595.46,328.6 593.97,325.39" fill="#0000ff" stroke="#000" stroke-width="0.6" stroke-linejoin="round"/>
<polygon points="610.25,321.8 614.15,323.79 612.66,327 607.84,327 606.35,323.79" fill="#0000ff" stroke="#000" stroke-width="0.6" stroke-linejoin="round"/>
<polygon points="622.62,320.5 626.53,322.49 625.04,325.7 620.21,325.7 618.72,322.49" fill="#0000ff" stroke="#000" stroke-width="0.6" stroke-linejoin="round"/>
<polygon points="635,312.8 638.9,314.79 637.41,318 632.59,318 631.1,314.79" fill="#0000ff" stroke="#000" stroke-width="0.6" stroke-linejoin="round"/>
<polygon points="647.38,305.3 651.28,307.29 649.79,310.5 644.96,310.5 643.47,307.29" fill="#0000ff" stroke="#000" stroke-width="0.6" stroke-linejoin="round"/>
<polygon points="659.75,297.8 663.65,299.79 662.16,303 657.34,303 655.85,299.79" fill="#0000ff" stroke="#000" stroke-width="0.6" stroke-linejoin="round"/>
<polygon points="672.12,295.1 676.03,297.09 674.54,300.3 669.71,300.3 668.22,297.09" fill="#0000ff" stroke="#000" stroke-width="0.6" stroke-linejoin="round"/>
</g>
<g clip-path="url(#cir)">
<polyline points="486.5,360.6 498.88,355.9 511.25,355.9 523.62,354.5 536,350.4 548.38,346.4 560.75,345.2 573.12,340.7 585.5,340.8 597.88,341.2 610.25,338.5 622.62,335.8 635,332.8 647.38,329 659.75,327.2 672.12,326" fill="none" stroke="#bf00bf" stroke-width="1.4" stroke-linejoin="round"/>
<polygon points="482.5,357.9 490.5,357.9 490.5,363.3 482.5,363.3" fill="#bf00bf" stroke="#000" stroke-width="0.6" stroke-linejoin="round"/>
<polygon points="494.88,353.2 502.88,353.2 502.88,358.6 494.88,358.6" fill="#bf00bf" stroke="#000" stroke-width="0.6" stroke-linejoin="round"/>
<polygon points="507.25,353.2 515.25,353.2 515.25,358.6 507.25,358.6" fill="#bf00bf" stroke="#000" stroke-width="0.6" stroke-linejoin="round"/>
<polygon points="519.62,351.8 527.62,351.8 527.62,357.2 519.62,357.2" fill="#bf00bf" stroke="#000" stroke-width="0.6" stroke-linejoin="round"/>
<polygon points="532,347.7 540,347.7 540,353.1 532,353.1" fill="#bf00bf" stroke="#000" stroke-width="0.6" stroke-linejoin="round"/>
<polygon points="544.38,343.7 552.38,343.7 552.38,349.1 544.38,349.1" fill="#bf00bf" stroke="#000" stroke-width="0.6" stroke-linejoin="round"/>
<polygon points="556.75,342.5 564.75,342.5 564.75,347.9 556.75,347.9" fill="#bf00bf" stroke="#000" stroke-width="0.6" stroke-linejoin="round"/>
<polygon points="569.12,338 577.12,338 577.12,343.4 569.12,343.4" fill="#bf00bf" stroke="#000" stroke-width="0.6" stroke-linejoin="round"/>
<polygon points="581.5,338.1 589.5,338.1 589.5,343.5 581.5,343.5" fill="#bf00bf" stroke="#000" stroke-width="0.6" stroke-linejoin="round"/>
<polygon points="593.88,338.5 601.88,338.5 601.88,343.9 593.88,343.9" fill="#bf00bf" stroke="#000" stroke-width="0.6" stroke-linejoin="round"/>
<polygon points="606.25,335.8 614.25,335.8 614.25,341.2 606.25,341.2" fill="#bf00bf" stroke="#000" stroke-width="0.6" stroke-linejoin="round"/>
<polygon points="618.62,333.1 626.62,333.1 626.62,338.5 618.62,338.5" fill="#bf00bf" stroke="#000" stroke-width="0.6" stroke-linejoin="round"/>
<polygon points="631,330.1 639,330.1 639,335.5 631,335.5" fill="#bf00bf" stroke="#000" stroke-width="0.6" stroke-linejoin="round"/>
<polygon points="643.38,326.3 651.38,326.3 651.38,331.7 643.38,331.7" fill="#bf00bf" stroke="#000" stroke-width="0.6" stroke-linejoin="round"/>
<polygon points="655.75,324.5 663.75,324.5 663.75,329.9 655.75,329.9" fill="#bf00bf" stroke="#000" stroke-width="0.6" stroke-linejoin="round"/>
<polygon points="668.12,323.3 676.12,323.3 676.12,328.7 668.12,328.7" fill="#bf00bf" stroke="#000" stroke-width="0.6" stroke-linejoin="round"/>
</g>
<g clip-path="url(#cir)">
<polyline points="486.5,359 498.88,349.8 511.25,344.4 523.62,338.7 536,337.7 548.38,333.2 560.75,327.5 573.12,320 585.5,337.5 597.88,335.4 610.25,331.2 622.62,292.2 635,287.5 647.38,311.3 659.75,309.6 672.12,282.9" fill="none" stroke="#d0d030" stroke-width="1.4" stroke-linejoin="round"/>
<polygon points="486.5,356.09 487.47,358.12 490,358.3 488.08,359.74 488.66,361.88 486.5,360.73 484.34,361.88 484.92,359.74 483,358.3 485.53,358.12" fill="#d4d436" stroke="#000" stroke-width="0.9" stroke-linejoin="round"/>
<polygon points="498.88,346.89 499.85,348.92 502.38,349.1 500.45,350.54 501.04,352.68 498.88,351.53 496.71,352.68 497.3,350.54 495.37,349.1 497.9,348.92" fill="#d4d436" stroke="#000" stroke-width="0.9" stroke-linejoin="round"/>
<polygon points="511.25,341.49 512.22,343.52 514.75,343.7 512.83,345.14 513.41,347.28 511.25,346.13 509.09,347.28 509.67,345.14 507.75,343.7 510.28,343.52" fill="#d4d436" stroke="#000" stroke-width="0.9" stroke-linejoin="round"/>
<polygon points="523.62,335.79 524.6,337.82 527.13,338 525.2,339.44 525.79,341.58 523.62,340.43 521.46,341.58 522.05,339.44 520.12,338 522.65,337.82" fill="#d4d436" stroke="#000" stroke-width="0.9" stroke-linejoin="round"/>
<polygon points="536,334.79 536.97,336.82 539.5,337 537.58,338.44 538.16,340.58 536,339.43 533.84,340.58 534.42,338.44 532.5,337 535.03,336.82" fill="#d4d436" stroke="#000" stroke-width="0.9" stroke-linejoin="round"/>
<polygon points="548.38,330.29 549.35,332.32 551.88,332.5 549.95,333.94 550.54,336.08 548.38,334.93 546.21,336.08 546.8,333.94 544.87,332.5 547.4,332.32" fill="#d4d436" stroke="#000" stroke-width="0.9" stroke-linejoin="round"/>
<polygon points="560.75,324.59 561.72,326.62 564.25,326.8 562.33,328.24 562.91,330.38 560.75,329.23 558.59,330.38 559.17,328.24 557.25,326.8 559.78,326.62" fill="#d4d436" stroke="#000" stroke-width="0.9" stroke-linejoin="round"/>
<polygon points="573.12,317.09 574.1,319.12 576.63,319.3 574.7,320.74 575.29,322.88 573.12,321.73 570.96,322.88 571.55,320.74 569.62,319.3 572.15,319.12" fill="#d4d436" stroke="#000" stroke-width="0.9" stroke-linejoin="round"/>
<polygon points="585.5,334.59 586.47,336.62 589,336.8 587.08,338.24 587.66,340.38 585.5,339.23 583.34,340.38 583.92,338.24 582,336.8 584.53,336.62" fill="#d4d436" stroke="#000" stroke-width="0.9" stroke-linejoin="round"/>
<polygon points="597.88,332.49 598.85,334.52 601.38,334.7 599.45,336.14 600.04,338.28 597.88,337.13 595.71,338.28 596.3,336.14 594.37,334.7 596.9,334.52" fill="#d4d436" stroke="#000" stroke-width="0.9" stroke-linejoin="round"/>
<polygon points="610.25,328.29 611.22,330.32 613.75,330.5 611.83,331.94 612.41,334.08 610.25,332.93 608.09,334.08 608.67,331.94 606.75,330.5 609.28,330.32" fill="#d4d436" stroke="#000" stroke-width="0.9" stroke-linejoin="round"/>
<polygon points="622.62,289.29 623.6,291.32 626.13,291.5 624.2,292.94 624.79,295.08 622.62,293.93 620.46,295.08 621.05,292.94 619.12,291.5 621.65,291.32" fill="#d4d436" stroke="#000" stroke-width="0.9" stroke-linejoin="round"/>
<polygon points="635,284.59 635.97,286.62 638.5,286.8 636.58,288.24 637.16,290.38 635,289.23 632.84,290.38 633.42,288.24 631.5,286.8 634.03,286.62" fill="#d4d436" stroke="#000" stroke-width="0.9" stroke-linejoin="round"/>
<polygon points="647.38,308.39 648.35,310.42 650.88,310.6 648.95,312.04 649.54,314.18 647.38,313.03 645.21,314.18 645.8,312.04 643.87,310.6 646.4,310.42" fill="#d4d436" stroke="#000" stroke-width="0.9" stroke-linejoin="round"/>
<polygon points="659.75,306.69 660.72,308.72 663.25,308.9 661.33,310.34 661.91,312.48 659.75,311.33 657.59,312.48 658.17,310.34 656.25,308.9 658.78,308.72" fill="#d4d436" stroke="#000" stroke-width="0.9" stroke-linejoin="round"/>
<polygon points="672.12,279.99 673.1,282.02 675.63,282.2 673.7,283.64 674.29,285.78 672.12,284.63 669.96,285.78 670.55,283.64 668.62,282.2 671.15,282.02" fill="#d4d436" stroke="#000" stroke-width="0.9" stroke-linejoin="round"/>
</g>
<g clip-path="url(#cir)">
<polyline points="486.5,360 498.88,359.5 511.25,363.2 523.62,359.5 536,353.2 548.38,351.2 560.75,337.5 573.12,338.4 585.5,337.4 597.88,321.5 610.25,324.5 622.62,320.6 635,318.4 647.38,314.1 659.75,315.3 672.12,305.8" fill="none" stroke="#000000" stroke-width="1.4" stroke-linejoin="round"/>
<polygon points="482.5,359.5 484.26,357.5 488.74,357.5 490.5,359.5 490.5,360.5 488.74,362.5 484.26,362.5 482.5,360.5" fill="#000000" stroke="#000" stroke-width="0.6" stroke-linejoin="round"/>
<polygon points="494.88,359 496.63,357 501.12,357 502.88,359 502.88,360 501.12,362 496.63,362 494.88,360" fill="#000000" stroke="#000" stroke-width="0.6" stroke-linejoin="round"/>
<polygon points="507.25,362.7 509.01,360.7 513.49,360.7 515.25,362.7 515.25,363.7 513.49,365.7 509.01,365.7 507.25,363.7" fill="#000000" stroke="#000" stroke-width="0.6" stroke-linejoin="round"/>
<polygon points="519.62,359 521.38,357 525.87,357 527.62,359 527.62,360 525.87,362 521.38,362 519.62,360" fill="#000000" stroke="#000" stroke-width="0.6" stroke-linejoin="round"/>
<polygon points="532,352.7 533.76,350.7 538.24,350.7 540,352.7 540,353.7 538.24,355.7 533.76,355.7 532,353.7" fill="#000000" stroke="#000" stroke-width="0.6" stroke-linejoin="round"/>
<polygon points="544.38,350.7 546.13,348.7 550.62,348.7 552.38,350.7 552.38,351.7 550.62,353.7 546.13,353.7 544.38,351.7" fill="#000000" stroke="#000" stroke-width="0.6" stroke-linejoin="round"/>
<polygon points="556.75,337 558.51,335 562.99,335 564.75,337 564.75,338 562.99,340 558.51,340 556.75,338" fill="#000000" stroke="#000" stroke-width="0.6" stroke-linejoin="round"/>
<polygon points="569.12,337.9 570.88,335.9 575.37,335.9 577.12,337.9 577.12,338.9 575.37,340.9 570.88,340.9 569.12,338.9" fill="#000000" stroke="#000" stroke-width="0.6" stroke-linejoin="round"/>
<polygon points="581.5,336.9 583.26,334.9 587.74,334.9 589.5,336.9 589.5,337.9 587.74,339.9 583.26,339.9 581.5,337.9" fill="#000000" stroke="#000" stroke-width="0.6" stroke-linejoin="round"/>
<polygon points="593.88,321 595.63,319 600.12,319 601.88,321 601.88,322 600.12,324 595.63,324 593.88,322" fill="#000000" stroke="#000" stroke-width="0.6" stroke-linejoin="round"/>
<polygon points="606.25,324 608.01,322 612.49,322 614.25,324 614.25,325 612.49,327 608.01,327 606.25,325" fill="#000000" stroke="#000" stroke-width="0.6" stroke-linejoin="round"/>
<polygon points="618.62,320.1 620.38,318.1 624.87,318.1 626.62,320.1 626.62,321.1 624.87,323.1 620.38,323.1 618.62,321.1" fill="#000000" stroke="#000" stroke-width="0.6" stroke-linejoin="round"/>
<polygon points="631,317.9 632.76,315.9 637.24,315.9 639,317.9 639,318.9 637.24,320.9 632.76,320.9 631,318.9" fill="#000000" stroke="#000" stroke-width="0.6" stroke-linejoin="round"/>
<polygon points="643.38,313.6 645.13,311.6 649.62,311.6 651.38,313.6 651.38,314.6 649.62,316.6 645.13,316.6 643.38,314.6" fill="#000000" stroke="#000" stroke-width="0.6" stroke-linejoin="round"/>
<polygon points="655.75,314.8 657.51,312.8 661.99,312.8 663.75,314.8 663.75,315.8 661.99,317.8 657.51,317.8 655.75,315.8" fill="#000000" stroke="#000" stroke-width="0.6" stroke-linejoin="round"/>
<polygon points="668.12,305.3 669.88,303.3 674.37,303.3 676.12,305.3 676.12,306.3 674.37,308.3 669.88,308.3 668.12,306.3" fill="#000000" stroke="#000" stroke-width="0.6" stroke-linejoin="round"/>
</g>
<rect x="486.5" y="278" width="198" height="93" fill="none" stroke="#222222" stroke-width="1"/>
<line x1="486.5" y1="371" x2="486.5" y2="368" stroke="#222222" stroke-width="1"/>
<line x1="486.5" y1="278" x2="486.5" y2="281" stroke="#222222" stroke-width="1"/>
<text transform="matrix(12.5 0 0 8.6 483.02 380)" font-size="1" font-family='"Liberation Sans", sans-serif' font-weight="normal" fill="#000">0</text>
<line x1="511.25" y1="371" x2="511.25" y2="368" stroke="#222222" stroke-width="1"/>
<line x1="511.25" y1="278" x2="511.25" y2="281" stroke="#222222" stroke-width="1"/>
<text transform="matrix(12.5 0 0 8.6 507.78 380)" font-size="1" font-family='"Liberation Sans", sans-serif' font-weight="normal" fill="#000">2</text>
<line x1="536" y1="371" x2="536" y2="368" stroke="#222222" stroke-width="1"/>
<line x1="536" y1="278" x2="536" y2="281" stroke="#222222" stroke-width="1"/>
<text transform="matrix(12.5 0 0 8.6 532.56 380)" font-size="1" font-family='"Liberation Sans", sans-serif' font-weight="normal" fill="#000">4</text>
<line x1="560.75" y1="371" x2="560.75" y2="368" stroke="#222222" stroke-width="1"/>
<line x1="560.75" y1="278" x2="560.75" y2="281" stroke="#222222" stroke-width="1"/>
<text transform="matrix(12.5 0 0 8.6 557.23 380)" font-size="1" font-family='"Liberation Sans", sans-serif' font-weight="normal" fill="#000">6</text>
<line x1="585.5" y1="371" x2="585.5" y2="368" stroke="#222222" stroke-width="1"/>
<line x1="585.5" y1="278" x2="585.5" y2="281" stroke="#222222" stroke-width="1"/>
<text transform="matrix(12.5 0 0 8.6 582.03 380)" font-size="1" font-family='"Liberation Sans", sans-serif' font-weight="normal" fill="#000">8</text>
<line x1="610.25" y1="371" x2="610.25" y2="368" stroke="#222222" stroke-width="1"/>
<line x1="610.25" y1="278" x2="610.25" y2="281" stroke="#222222" stroke-width="1"/>
<text transform="matrix(12.5 0 0 8.6 603.08 380)" font-size="1" font-family='"Liberation Sans", sans-serif' font-weight="normal" fill="#000">10</text>
<line x1="635" y1="371" x2="635" y2="368" stroke="#222222" stroke-width="1"/>
<line x1="635" y1="278" x2="635" y2="281" stroke="#222222" stroke-width="1"/>
<text transform="matrix(12.5 0 0 8.6 627.91 380)" font-size="1" font-family='"Liberation Sans", sans-serif' font-weight="normal" fill="#000">12</text>
<line x1="659.75" y1="371" x2="659.75" y2="368" stroke="#222222" stroke-width="1"/>
<line x1="659.75" y1="278" x2="659.75" y2="281" stroke="#222222" stroke-width="1"/>
<text transform="matrix(12.5 0 0 8.6 652.52 380)" font-size="1" font-family='"Liberation Sans", sans-serif' font-weight="normal" fill="#000">14</text>
<line x1="684.5" y1="371" x2="684.5" y2="368" stroke="#222222" stroke-width="1"/>
<line x1="684.5" y1="278" x2="684.5" y2="281" stroke="#222222" stroke-width="1"/>
<text transform="matrix(12.5 0 0 8.6 677.36 380)" font-size="1" font-family='"Liberation Sans", sans-serif' font-weight="normal" fill="#000">16</text>
<line x1="486.5" y1="309" x2="490.5" y2="309" stroke="#222222" stroke-width="1"/>
<text transform="matrix(12.87 0 0 9.2 458.21 312)" font-size="1" font-family='"Liberation Sans", sans-serif' font-weight="normal" fill="#000">0.83</text>
<line x1="486.5" y1="360.6" x2="490.5" y2="360.6" stroke="#222222" stroke-width="1"/>
<text transform="matrix(12.87 0 0 9.2 458.31 363.6)" font-size="1" font-family='"Liberation Sans", sans-serif' font-weight="normal" fill="#000">0.82</text>
<text transform="matrix(35.4463 0 0 27.0229 110.88 19)" font-size="1" font-family='"Liberation Serif", serif' font-weight="bold" fill="#000">RSD</text>
<text transform="matrix(33.3393 0 0 27.0229 197.52 19)" font-size="1" font-family='"Liberation Serif", serif' font-weight="bold" fill="#000">L</text>
<text transform="matrix(33.3393 0 0 25.1313 219.75 19)" font-size="1" font-family='"Liberation Serif", serif' font-weight="bold" fill="#000">abels</text>
<text transform="matrix(34.0719 0 0 27.0229 472.7 19)" font-size="1" font-family='"Liberation Serif", serif' font-weight="bold" fill="#000">C</text>
<text transform="matrix(34.0719 0 0 25.1313 497.3 19)" font-size="1" font-family='"Liberation Serif", serif' font-weight="bold" fill="#000">omparison</text>
<text transform="matrix(32.9812 0 0 27.0229 669.52 19)" font-size="1" font-family='"Liberation Serif", serif' font-weight="bold" fill="#000">L</text>
<text transform="matrix(32.9812 0 0 25.1313 691.52 19)" font-size="1" font-family='"Liberation Serif", serif' font-weight="bold" fill="#000">abels</text>
<text transform="matrix(24.2756 0 0 18.7786 127.88 416.9)" font-size="1" font-family='"Liberation Serif", serif' font-weight="bold" fill="#000">B</text>
<text transform="matrix(24.2756 0 0 17.4641 144.07 416.9)" font-size="1" font-family='"Liberation Serif", serif' font-weight="bold" fill="#000">atch</text>
<text transform="matrix(24.1705 0 0 18.566 198.73 416.9)" font-size="1" font-family='"Liberation Serif", serif' font-weight="bold" fill="#000">S</text>
<text transform="matrix(24.1705 0 0 17.2664 212.17 416.9)" font-size="1" font-family='"Liberation Serif", serif' font-weight="bold" fill="#000">ize</text>
<text transform="matrix(22.7243 0 0 18.7786 256.4 416.9)" font-size="1" font-family='"Liberation Serif", serif' font-weight="bold" fill="#000">K</text>
<text transform="matrix(24.2756 0 0 18.7786 544.78 416.9)" font-size="1" font-family='"Liberation Serif", serif' font-weight="bold" fill="#000">B</text>
<text transform="matrix(24.2756 0 0 17.4641 560.97 416.9)" font-size="1" font-family='"Liberation Serif", serif' font-weight="bold" fill="#000">atch</text>
<text transform="matrix(24.1705 0 0 18.566 615.63 416.9)" font-size="1" font-family='"Liberation Serif", serif' font-weight="bold" fill="#000">S</text>
<text transform="matrix(24.1705 0 0 17.2664 629.07 416.9)" font-size="1" font-family='"Liberation Serif", serif' font-weight="bold" fill="#000">ize</text>
<text transform="matrix(22.7243 0 0 18.7786 673.3 416.9)" font-size="1" font-family='"Liberation Serif", serif' font-weight="bold" fill="#000">K</text>
<text transform="matrix(0 -19.243 25.5094 0 18.3 221.79)" font-size="1" font-family='"Liberation Serif", serif' font-weight="normal" fill="#000" stroke="#000" stroke-width="0.055">AUC</text>
<text transform="matrix(0 -18.9011 25.9623 0 435.1 221.79)" font-size="1" font-family='"Liberation Serif", serif' font-weight="normal" fill="#000" stroke="#000" stroke-width="0.055">AUC</text>
</svg>
</body></html>
